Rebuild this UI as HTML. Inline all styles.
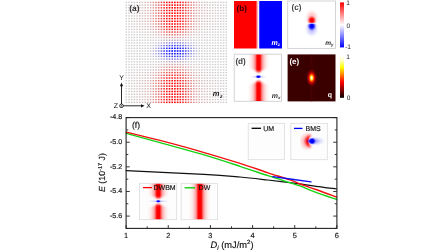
<!DOCTYPE html>
<html><head><meta charset="utf-8"><style>
html,body{margin:0;padding:0;background:#fff;}
body{width:448px;height:252px;overflow:hidden;}
svg{display:block;} text{text-rendering:geometricPrecision;}
</style></head><body>
<svg width="448" height="252" viewBox="0 0 448 252">
<rect width="448" height="252" fill="#fff"/>
<defs><radialGradient id="rcore" cx="0.5" cy="0.5" r="0.5"><stop offset="0" stop-color="#ff0000" stop-opacity="1"/><stop offset="0.35" stop-color="#ff0000" stop-opacity="1"/><stop offset="0.55" stop-color="#ff0000" stop-opacity="0.6"/><stop offset="0.75" stop-color="#ff0000" stop-opacity="0.25"/><stop offset="1" stop-color="#ff0000" stop-opacity="0"/></radialGradient><radialGradient id="bcore" cx="0.5" cy="0.5" r="0.5"><stop offset="0" stop-color="#0000ff" stop-opacity="1"/><stop offset="0.35" stop-color="#0000ff" stop-opacity="1"/><stop offset="0.55" stop-color="#0000ff" stop-opacity="0.6"/><stop offset="0.75" stop-color="#0000ff" stop-opacity="0.25"/><stop offset="1" stop-color="#0000ff" stop-opacity="0"/></radialGradient><radialGradient id="rcore2" cx="0.5" cy="0.5" r="0.5"><stop offset="0" stop-color="#ff0000" stop-opacity="1"/><stop offset="0.35" stop-color="#ff0000" stop-opacity="1"/><stop offset="0.6" stop-color="#ff0000" stop-opacity="0.5"/><stop offset="0.8" stop-color="#ff0000" stop-opacity="0.2"/><stop offset="1" stop-color="#ff0000" stop-opacity="0"/></radialGradient><radialGradient id="bcore2" cx="0.5" cy="0.5" r="0.5"><stop offset="0" stop-color="#0000ff" stop-opacity="1"/><stop offset="0.35" stop-color="#0000ff" stop-opacity="1"/><stop offset="0.6" stop-color="#0000ff" stop-opacity="0.5"/><stop offset="0.8" stop-color="#0000ff" stop-opacity="0.2"/><stop offset="1" stop-color="#0000ff" stop-opacity="0"/></radialGradient><radialGradient id="bcore3" cx="0.5" cy="0.5" r="0.5"><stop offset="0" stop-color="#0000ff" stop-opacity="1"/><stop offset="0.42" stop-color="#0000ff" stop-opacity="1"/><stop offset="0.72" stop-color="#0000ff" stop-opacity="0.45"/><stop offset="1" stop-color="#0000ff" stop-opacity="0"/></radialGradient><radialGradient id="rhalo" cx="0.5" cy="0.5" r="0.5"><stop offset="0" stop-color="#ff0000" stop-opacity="0.4"/><stop offset="0.5" stop-color="#ff0000" stop-opacity="0.17"/><stop offset="1" stop-color="#ff0000" stop-opacity="0"/></radialGradient><radialGradient id="rhalo3" cx="0.5" cy="0.5" r="0.5"><stop offset="0" stop-color="#ff0000" stop-opacity="0.45"/><stop offset="0.5" stop-color="#ff0000" stop-opacity="0.22"/><stop offset="1" stop-color="#ff0000" stop-opacity="0"/></radialGradient><radialGradient id="bhalo" cx="0.5" cy="0.5" r="0.5"><stop offset="0" stop-color="#0000ff" stop-opacity="0.4"/><stop offset="0.5" stop-color="#0000ff" stop-opacity="0.17"/><stop offset="1" stop-color="#0000ff" stop-opacity="0"/></radialGradient><radialGradient id="bhalo2" cx="0.5" cy="0.5" r="0.5"><stop offset="0" stop-color="#0000ff" stop-opacity="0.45"/><stop offset="0.4" stop-color="#0000ff" stop-opacity="0.2"/><stop offset="1" stop-color="#0000ff" stop-opacity="0"/></radialGradient><radialGradient id="bhalo4" cx="0.5" cy="0.5" r="0.5"><stop offset="0" stop-color="#0000ff" stop-opacity="0.4"/><stop offset="0.4" stop-color="#0000ff" stop-opacity="0.14"/><stop offset="1" stop-color="#0000ff" stop-opacity="0"/></radialGradient><radialGradient id="whitegap" cx="0.5" cy="0.5" r="0.5"><stop offset="0" stop-color="#ffffff" stop-opacity="1"/><stop offset="0.55" stop-color="#ffffff" stop-opacity="1"/><stop offset="0.8" stop-color="#ffffff" stop-opacity="0.55"/><stop offset="1" stop-color="#ffffff" stop-opacity="0"/></radialGradient><radialGradient id="gapmask" cx="0.5" cy="0.5" r="0.5"><stop offset="0" stop-color="#000000" stop-opacity="1"/><stop offset="0.5" stop-color="#000000" stop-opacity="0.95"/><stop offset="0.75" stop-color="#000000" stop-opacity="0.5"/><stop offset="1" stop-color="#000000" stop-opacity="0"/></radialGradient><linearGradient id="stripe" x1="0" x2="1" y1="0" y2="0"><stop offset="0" stop-color="#ff0000" stop-opacity="0"/><stop offset="0.1" stop-color="#ff0000" stop-opacity="0.04"/><stop offset="0.2" stop-color="#ff0000" stop-opacity="0.13"/><stop offset="0.3" stop-color="#ff0000" stop-opacity="0.32"/><stop offset="0.36" stop-color="#ff0000" stop-opacity="0.55"/><stop offset="0.4" stop-color="#ff0000" stop-opacity="0.8"/><stop offset="0.43" stop-color="#ff0000" stop-opacity="1"/><stop offset="0.57" stop-color="#ff0000" stop-opacity="1"/><stop offset="0.6" stop-color="#ff0000" stop-opacity="0.8"/><stop offset="0.64" stop-color="#ff0000" stop-opacity="0.55"/><stop offset="0.7" stop-color="#ff0000" stop-opacity="0.32"/><stop offset="0.8" stop-color="#ff0000" stop-opacity="0.13"/><stop offset="0.9" stop-color="#ff0000" stop-opacity="0.04"/><stop offset="1" stop-color="#ff0000" stop-opacity="0"/></linearGradient><radialGradient id="espot" cx="0.5" cy="0.5" r="0.5"><stop offset="0" stop-color="#ffffff" stop-opacity="1"/><stop offset="0.14" stop-color="#ffffa0" stop-opacity="1"/><stop offset="0.26" stop-color="#ffc000" stop-opacity="1"/><stop offset="0.4" stop-color="#ff2000" stop-opacity="1"/><stop offset="0.6" stop-color="#a00000" stop-opacity="1"/><stop offset="0.8" stop-color="#550000" stop-opacity="1"/><stop offset="1" stop-color="#3a0000" stop-opacity="1"/></radialGradient><linearGradient id="estripe" x1="0" x2="1" y1="0" y2="0"><stop offset="0" stop-color="#5a0000" stop-opacity="0"/><stop offset="0.5" stop-color="#5a0000" stop-opacity="0.35"/><stop offset="1" stop-color="#5a0000" stop-opacity="0"/></linearGradient><linearGradient id="tailb" x1="0" x2="1" y1="0" y2="0"><stop offset="0" stop-color="#0000ff" stop-opacity="0.55"/><stop offset="0.4" stop-color="#0000ff" stop-opacity="0.25"/><stop offset="1" stop-color="#0000ff" stop-opacity="0"/></linearGradient><radialGradient id="tailr" cx="0.5" cy="0.5" r="0.5" fx="0.2" fy="0.5"><stop offset="0" stop-color="#0000ff" stop-opacity="0.75"/><stop offset="0.35" stop-color="#0000ff" stop-opacity="0.4"/><stop offset="0.7" stop-color="#0000ff" stop-opacity="0.12"/><stop offset="1" stop-color="#0000ff" stop-opacity="0"/></radialGradient><linearGradient id="crescm" x1="0" x2="1" y1="0" y2="0"><stop offset="0" stop-color="#ffffff" stop-opacity="1"/><stop offset="0.5" stop-color="#ffffff" stop-opacity="1"/><stop offset="0.75" stop-color="#ffffff" stop-opacity="0.3"/><stop offset="1" stop-color="#ffffff" stop-opacity="0"/></linearGradient></defs><g><rect x="125.52" y="1.72" width="1.55" height="1.35" fill="#d1cbcb"/><rect x="128.22" y="1.72" width="1.55" height="1.36" fill="#d1caca"/><rect x="130.92" y="1.72" width="1.55" height="1.36" fill="#d1c8c8"/><rect x="133.62" y="1.72" width="1.55" height="1.36" fill="#d2c6c6"/><rect x="136.32" y="1.72" width="1.56" height="1.36" fill="#d2c4c4"/><rect x="139.02" y="1.72" width="1.56" height="1.36" fill="#d3c2c2"/><rect x="141.72" y="1.72" width="1.56" height="1.37" fill="#d3bfbf"/><rect x="144.42" y="1.71" width="1.56" height="1.37" fill="#d4baba"/><rect x="147.12" y="1.71" width="1.56" height="1.38" fill="#d6b3b3"/><rect x="149.82" y="1.71" width="1.57" height="1.39" fill="#d8a8a8"/><rect x="152.51" y="1.70" width="1.58" height="1.40" fill="#dc9898"/><rect x="155.21" y="1.69" width="1.59" height="1.43" fill="#e18181"/><rect x="157.90" y="1.67" width="1.60" height="1.45" fill="#e76666"/><rect x="160.59" y="1.66" width="1.62" height="1.48" fill="#ee4848"/><rect x="163.29" y="1.65" width="1.63" height="1.51" fill="#f42c2c"/><rect x="165.98" y="1.64" width="1.64" height="1.53" fill="#fa1515"/><rect x="168.68" y="1.63" width="1.65" height="1.54" fill="#fd0707"/><rect x="171.38" y="1.63" width="1.65" height="1.55" fill="#fe0000"/><rect x="174.08" y="1.63" width="1.65" height="1.55" fill="#fe0000"/><rect x="176.78" y="1.63" width="1.65" height="1.55" fill="#fe0404"/><rect x="179.48" y="1.63" width="1.64" height="1.53" fill="#fb0f0f"/><rect x="182.18" y="1.64" width="1.63" height="1.52" fill="#f62323"/><rect x="184.89" y="1.66" width="1.62" height="1.49" fill="#f03e3e"/><rect x="187.60" y="1.67" width="1.61" height="1.46" fill="#ea5c5c"/><rect x="190.30" y="1.68" width="1.59" height="1.43" fill="#e37878"/><rect x="193.01" y="1.69" width="1.58" height="1.41" fill="#de9191"/><rect x="195.71" y="1.70" width="1.57" height="1.39" fill="#daa3a3"/><rect x="198.42" y="1.71" width="1.57" height="1.38" fill="#d7b0b0"/><rect x="201.12" y="1.71" width="1.56" height="1.37" fill="#d5b8b8"/><rect x="203.82" y="1.72" width="1.56" height="1.37" fill="#d4bdbd"/><rect x="206.52" y="1.72" width="1.56" height="1.36" fill="#d3c1c1"/><rect x="209.22" y="1.72" width="1.56" height="1.36" fill="#d2c4c4"/><rect x="211.92" y="1.72" width="1.55" height="1.36" fill="#d2c6c6"/><rect x="214.62" y="1.72" width="1.55" height="1.36" fill="#d1c8c8"/><rect x="217.32" y="1.72" width="1.55" height="1.36" fill="#d1c9c9"/><rect x="220.02" y="1.72" width="1.55" height="1.35" fill="#d1cbcb"/><rect x="222.72" y="1.72" width="1.55" height="1.35" fill="#d0cccc"/><rect x="225.42" y="1.72" width="1.55" height="1.35" fill="#d0cdcd"/><rect x="125.52" y="4.42" width="1.55" height="1.35" fill="#d1cbcb"/><rect x="128.22" y="4.42" width="1.55" height="1.36" fill="#d1caca"/><rect x="130.92" y="4.42" width="1.55" height="1.36" fill="#d1c8c8"/><rect x="133.62" y="4.42" width="1.55" height="1.36" fill="#d2c6c6"/><rect x="136.32" y="4.42" width="1.56" height="1.36" fill="#d2c4c4"/><rect x="139.02" y="4.42" width="1.56" height="1.36" fill="#d3c2c2"/><rect x="141.72" y="4.42" width="1.56" height="1.37" fill="#d3bfbf"/><rect x="144.42" y="4.41" width="1.56" height="1.37" fill="#d4baba"/><rect x="147.12" y="4.41" width="1.56" height="1.38" fill="#d6b3b3"/><rect x="149.82" y="4.41" width="1.57" height="1.39" fill="#d8a8a8"/><rect x="152.51" y="4.40" width="1.58" height="1.40" fill="#dc9898"/><rect x="155.21" y="4.39" width="1.59" height="1.43" fill="#e18181"/><rect x="157.90" y="4.37" width="1.60" height="1.45" fill="#e76666"/><rect x="160.59" y="4.36" width="1.62" height="1.48" fill="#ee4848"/><rect x="163.29" y="4.35" width="1.63" height="1.51" fill="#f42c2c"/><rect x="165.98" y="4.34" width="1.64" height="1.53" fill="#fa1515"/><rect x="168.68" y="4.33" width="1.65" height="1.54" fill="#fd0707"/><rect x="171.38" y="4.33" width="1.65" height="1.55" fill="#fe0000"/><rect x="174.08" y="4.33" width="1.65" height="1.55" fill="#fe0000"/><rect x="176.78" y="4.33" width="1.65" height="1.55" fill="#fe0404"/><rect x="179.48" y="4.33" width="1.64" height="1.53" fill="#fb0f0f"/><rect x="182.18" y="4.34" width="1.63" height="1.52" fill="#f62323"/><rect x="184.89" y="4.36" width="1.62" height="1.49" fill="#f03e3e"/><rect x="187.60" y="4.37" width="1.61" height="1.46" fill="#ea5c5c"/><rect x="190.30" y="4.38" width="1.59" height="1.43" fill="#e37878"/><rect x="193.01" y="4.39" width="1.58" height="1.41" fill="#de9191"/><rect x="195.71" y="4.40" width="1.57" height="1.39" fill="#daa3a3"/><rect x="198.42" y="4.41" width="1.57" height="1.38" fill="#d7b0b0"/><rect x="201.12" y="4.41" width="1.56" height="1.37" fill="#d5b8b8"/><rect x="203.82" y="4.42" width="1.56" height="1.37" fill="#d4bdbd"/><rect x="206.52" y="4.42" width="1.56" height="1.36" fill="#d3c1c1"/><rect x="209.22" y="4.42" width="1.56" height="1.36" fill="#d2c4c4"/><rect x="211.92" y="4.42" width="1.55" height="1.36" fill="#d2c6c6"/><rect x="214.62" y="4.42" width="1.55" height="1.36" fill="#d1c8c8"/><rect x="217.32" y="4.42" width="1.55" height="1.36" fill="#d1c9c9"/><rect x="220.02" y="4.42" width="1.55" height="1.35" fill="#d1cbcb"/><rect x="222.72" y="4.42" width="1.55" height="1.35" fill="#d0cccc"/><rect x="225.42" y="4.42" width="1.55" height="1.35" fill="#d0cdcd"/><rect x="125.52" y="7.12" width="1.55" height="1.35" fill="#d1cbcb"/><rect x="128.22" y="7.12" width="1.55" height="1.36" fill="#d1caca"/><rect x="130.92" y="7.12" width="1.55" height="1.36" fill="#d1c8c8"/><rect x="133.62" y="7.12" width="1.55" height="1.36" fill="#d2c6c6"/><rect x="136.32" y="7.12" width="1.56" height="1.36" fill="#d2c4c4"/><rect x="139.02" y="7.12" width="1.56" height="1.36" fill="#d3c2c2"/><rect x="141.72" y="7.12" width="1.56" height="1.37" fill="#d3bfbf"/><rect x="144.42" y="7.11" width="1.56" height="1.37" fill="#d4baba"/><rect x="147.12" y="7.11" width="1.56" height="1.38" fill="#d6b3b3"/><rect x="149.82" y="7.11" width="1.57" height="1.39" fill="#d8a8a8"/><rect x="152.51" y="7.10" width="1.58" height="1.40" fill="#dc9898"/><rect x="155.21" y="7.09" width="1.59" height="1.43" fill="#e18181"/><rect x="157.90" y="7.07" width="1.60" height="1.45" fill="#e76666"/><rect x="160.59" y="7.06" width="1.62" height="1.48" fill="#ee4848"/><rect x="163.29" y="7.05" width="1.63" height="1.51" fill="#f42c2c"/><rect x="165.98" y="7.04" width="1.64" height="1.53" fill="#fa1515"/><rect x="168.68" y="7.03" width="1.65" height="1.54" fill="#fd0707"/><rect x="171.38" y="7.03" width="1.65" height="1.55" fill="#fe0000"/><rect x="174.08" y="7.03" width="1.65" height="1.55" fill="#fe0000"/><rect x="176.78" y="7.03" width="1.65" height="1.55" fill="#fe0404"/><rect x="179.48" y="7.03" width="1.64" height="1.53" fill="#fb0f0f"/><rect x="182.18" y="7.04" width="1.63" height="1.52" fill="#f62323"/><rect x="184.89" y="7.06" width="1.62" height="1.49" fill="#f03e3e"/><rect x="187.60" y="7.07" width="1.61" height="1.46" fill="#ea5c5c"/><rect x="190.30" y="7.08" width="1.59" height="1.43" fill="#e37878"/><rect x="193.01" y="7.09" width="1.58" height="1.41" fill="#de9191"/><rect x="195.71" y="7.10" width="1.57" height="1.39" fill="#daa3a3"/><rect x="198.42" y="7.11" width="1.57" height="1.38" fill="#d7b0b0"/><rect x="201.12" y="7.11" width="1.56" height="1.37" fill="#d5b8b8"/><rect x="203.82" y="7.12" width="1.56" height="1.37" fill="#d4bdbd"/><rect x="206.52" y="7.12" width="1.56" height="1.36" fill="#d3c1c1"/><rect x="209.22" y="7.12" width="1.56" height="1.36" fill="#d2c4c4"/><rect x="211.92" y="7.12" width="1.55" height="1.36" fill="#d2c6c6"/><rect x="214.62" y="7.12" width="1.55" height="1.36" fill="#d1c8c8"/><rect x="217.32" y="7.12" width="1.55" height="1.36" fill="#d1c9c9"/><rect x="220.02" y="7.12" width="1.55" height="1.35" fill="#d1cbcb"/><rect x="222.72" y="7.12" width="1.55" height="1.35" fill="#d0cccc"/><rect x="225.42" y="7.12" width="1.55" height="1.35" fill="#d0cdcd"/><rect x="125.52" y="9.82" width="1.55" height="1.35" fill="#d1cbcb"/><rect x="128.22" y="9.82" width="1.55" height="1.36" fill="#d1caca"/><rect x="130.92" y="9.82" width="1.55" height="1.36" fill="#d1c8c8"/><rect x="133.62" y="9.82" width="1.55" height="1.36" fill="#d2c6c6"/><rect x="136.32" y="9.82" width="1.56" height="1.36" fill="#d2c4c4"/><rect x="139.02" y="9.82" width="1.56" height="1.36" fill="#d3c2c2"/><rect x="141.72" y="9.82" width="1.56" height="1.37" fill="#d3bfbf"/><rect x="144.42" y="9.81" width="1.56" height="1.37" fill="#d4baba"/><rect x="147.12" y="9.81" width="1.56" height="1.38" fill="#d6b3b3"/><rect x="149.82" y="9.81" width="1.57" height="1.39" fill="#d8a8a8"/><rect x="152.51" y="9.80" width="1.58" height="1.40" fill="#dc9898"/><rect x="155.21" y="9.79" width="1.59" height="1.43" fill="#e18181"/><rect x="157.90" y="9.77" width="1.60" height="1.45" fill="#e76666"/><rect x="160.59" y="9.76" width="1.62" height="1.48" fill="#ee4848"/><rect x="163.29" y="9.75" width="1.63" height="1.51" fill="#f42c2c"/><rect x="165.98" y="9.74" width="1.64" height="1.53" fill="#fa1515"/><rect x="168.68" y="9.73" width="1.65" height="1.54" fill="#fd0707"/><rect x="171.38" y="9.73" width="1.65" height="1.55" fill="#fe0000"/><rect x="174.08" y="9.73" width="1.65" height="1.55" fill="#fe0000"/><rect x="176.78" y="9.73" width="1.65" height="1.55" fill="#fe0404"/><rect x="179.48" y="9.73" width="1.64" height="1.53" fill="#fb0f0f"/><rect x="182.18" y="9.74" width="1.63" height="1.52" fill="#f62323"/><rect x="184.89" y="9.76" width="1.62" height="1.49" fill="#f03e3e"/><rect x="187.60" y="9.77" width="1.61" height="1.46" fill="#ea5c5c"/><rect x="190.30" y="9.78" width="1.59" height="1.43" fill="#e37878"/><rect x="193.01" y="9.79" width="1.58" height="1.41" fill="#de9191"/><rect x="195.71" y="9.80" width="1.57" height="1.39" fill="#daa3a3"/><rect x="198.42" y="9.81" width="1.57" height="1.38" fill="#d7b0b0"/><rect x="201.12" y="9.81" width="1.56" height="1.37" fill="#d5b8b8"/><rect x="203.82" y="9.82" width="1.56" height="1.37" fill="#d4bdbd"/><rect x="206.52" y="9.82" width="1.56" height="1.36" fill="#d3c1c1"/><rect x="209.22" y="9.82" width="1.56" height="1.36" fill="#d2c4c4"/><rect x="211.92" y="9.82" width="1.55" height="1.36" fill="#d2c6c6"/><rect x="214.62" y="9.82" width="1.55" height="1.36" fill="#d1c8c8"/><rect x="217.32" y="9.82" width="1.55" height="1.36" fill="#d1c9c9"/><rect x="220.02" y="9.82" width="1.55" height="1.35" fill="#d1cbcb"/><rect x="222.72" y="9.82" width="1.55" height="1.35" fill="#d0cccc"/><rect x="225.42" y="9.82" width="1.55" height="1.35" fill="#d0cdcd"/><rect x="125.52" y="12.52" width="1.55" height="1.35" fill="#d1cbcb"/><rect x="128.22" y="12.52" width="1.55" height="1.36" fill="#d1caca"/><rect x="130.92" y="12.52" width="1.55" height="1.36" fill="#d1c8c8"/><rect x="133.62" y="12.52" width="1.55" height="1.36" fill="#d2c6c6"/><rect x="136.32" y="12.52" width="1.56" height="1.36" fill="#d2c4c4"/><rect x="139.02" y="12.52" width="1.56" height="1.36" fill="#d3c2c2"/><rect x="141.72" y="12.52" width="1.56" height="1.37" fill="#d3bfbf"/><rect x="144.42" y="12.51" width="1.56" height="1.37" fill="#d4baba"/><rect x="147.12" y="12.51" width="1.56" height="1.38" fill="#d6b3b3"/><rect x="149.82" y="12.51" width="1.57" height="1.39" fill="#d8a8a8"/><rect x="152.51" y="12.50" width="1.58" height="1.40" fill="#dc9898"/><rect x="155.21" y="12.49" width="1.59" height="1.43" fill="#e18181"/><rect x="157.90" y="12.47" width="1.60" height="1.45" fill="#e76666"/><rect x="160.59" y="12.46" width="1.62" height="1.48" fill="#ee4848"/><rect x="163.29" y="12.45" width="1.63" height="1.51" fill="#f42c2c"/><rect x="165.98" y="12.44" width="1.64" height="1.53" fill="#fa1515"/><rect x="168.68" y="12.43" width="1.65" height="1.54" fill="#fd0707"/><rect x="171.38" y="12.43" width="1.65" height="1.55" fill="#fe0000"/><rect x="174.08" y="12.43" width="1.65" height="1.55" fill="#fe0000"/><rect x="176.78" y="12.43" width="1.65" height="1.55" fill="#fe0404"/><rect x="179.48" y="12.43" width="1.64" height="1.53" fill="#fb0f0f"/><rect x="182.18" y="12.44" width="1.63" height="1.52" fill="#f62424"/><rect x="184.89" y="12.46" width="1.62" height="1.49" fill="#f03e3e"/><rect x="187.60" y="12.47" width="1.61" height="1.46" fill="#ea5c5c"/><rect x="190.30" y="12.48" width="1.59" height="1.43" fill="#e37979"/><rect x="193.01" y="12.49" width="1.58" height="1.41" fill="#de9191"/><rect x="195.71" y="12.50" width="1.57" height="1.39" fill="#daa3a3"/><rect x="198.42" y="12.51" width="1.57" height="1.38" fill="#d7b0b0"/><rect x="201.12" y="12.51" width="1.56" height="1.37" fill="#d5b8b8"/><rect x="203.82" y="12.52" width="1.56" height="1.37" fill="#d4bdbd"/><rect x="206.52" y="12.52" width="1.56" height="1.36" fill="#d3c1c1"/><rect x="209.22" y="12.52" width="1.56" height="1.36" fill="#d2c4c4"/><rect x="211.92" y="12.52" width="1.55" height="1.36" fill="#d2c6c6"/><rect x="214.62" y="12.52" width="1.55" height="1.36" fill="#d1c8c8"/><rect x="217.32" y="12.52" width="1.55" height="1.36" fill="#d1c9c9"/><rect x="220.02" y="12.52" width="1.55" height="1.35" fill="#d1cbcb"/><rect x="222.72" y="12.52" width="1.55" height="1.35" fill="#d0cccc"/><rect x="225.42" y="12.52" width="1.55" height="1.35" fill="#d0cdcd"/><rect x="125.52" y="15.22" width="1.55" height="1.35" fill="#d1cbcb"/><rect x="128.22" y="15.22" width="1.55" height="1.36" fill="#d1caca"/><rect x="130.92" y="15.22" width="1.55" height="1.36" fill="#d1c8c8"/><rect x="133.62" y="15.22" width="1.55" height="1.36" fill="#d2c7c7"/><rect x="136.32" y="15.22" width="1.56" height="1.36" fill="#d2c4c4"/><rect x="139.02" y="15.22" width="1.56" height="1.36" fill="#d3c2c2"/><rect x="141.72" y="15.22" width="1.56" height="1.37" fill="#d3bfbf"/><rect x="144.42" y="15.21" width="1.56" height="1.37" fill="#d4baba"/><rect x="147.12" y="15.21" width="1.56" height="1.38" fill="#d6b3b3"/><rect x="149.82" y="15.21" width="1.57" height="1.39" fill="#d8a8a8"/><rect x="152.51" y="15.20" width="1.58" height="1.40" fill="#dc9898"/><rect x="155.21" y="15.19" width="1.59" height="1.42" fill="#e18282"/><rect x="157.90" y="15.17" width="1.60" height="1.45" fill="#e76666"/><rect x="160.59" y="15.16" width="1.62" height="1.48" fill="#ee4848"/><rect x="163.29" y="15.15" width="1.63" height="1.51" fill="#f42c2c"/><rect x="165.98" y="15.14" width="1.64" height="1.53" fill="#fa1515"/><rect x="168.68" y="15.13" width="1.65" height="1.54" fill="#fd0707"/><rect x="171.38" y="15.13" width="1.65" height="1.55" fill="#fe0000"/><rect x="174.08" y="15.13" width="1.65" height="1.55" fill="#fe0000"/><rect x="176.78" y="15.13" width="1.65" height="1.55" fill="#fe0404"/><rect x="179.48" y="15.13" width="1.64" height="1.53" fill="#fb0f0f"/><rect x="182.18" y="15.14" width="1.63" height="1.52" fill="#f62424"/><rect x="184.89" y="15.16" width="1.62" height="1.49" fill="#f03e3e"/><rect x="187.60" y="15.17" width="1.61" height="1.46" fill="#ea5c5c"/><rect x="190.30" y="15.18" width="1.59" height="1.43" fill="#e37979"/><rect x="193.01" y="15.19" width="1.58" height="1.41" fill="#de9191"/><rect x="195.71" y="15.20" width="1.57" height="1.39" fill="#d9a3a3"/><rect x="198.42" y="15.21" width="1.57" height="1.38" fill="#d7b0b0"/><rect x="201.12" y="15.21" width="1.56" height="1.37" fill="#d5b8b8"/><rect x="203.82" y="15.22" width="1.56" height="1.37" fill="#d4bdbd"/><rect x="206.52" y="15.22" width="1.56" height="1.36" fill="#d3c1c1"/><rect x="209.22" y="15.22" width="1.56" height="1.36" fill="#d2c4c4"/><rect x="211.92" y="15.22" width="1.55" height="1.36" fill="#d2c6c6"/><rect x="214.62" y="15.22" width="1.55" height="1.36" fill="#d1c8c8"/><rect x="217.32" y="15.22" width="1.55" height="1.36" fill="#d1c9c9"/><rect x="220.02" y="15.22" width="1.55" height="1.35" fill="#d1cbcb"/><rect x="222.72" y="15.22" width="1.55" height="1.35" fill="#d0cccc"/><rect x="225.42" y="15.22" width="1.55" height="1.35" fill="#d0cdcd"/><rect x="125.52" y="17.92" width="1.55" height="1.35" fill="#d0cbcb"/><rect x="128.22" y="17.92" width="1.55" height="1.36" fill="#d1caca"/><rect x="130.92" y="17.92" width="1.55" height="1.36" fill="#d1c8c8"/><rect x="133.62" y="17.92" width="1.55" height="1.36" fill="#d1c7c7"/><rect x="136.32" y="17.92" width="1.56" height="1.36" fill="#d2c5c5"/><rect x="139.02" y="17.92" width="1.56" height="1.36" fill="#d3c2c2"/><rect x="141.72" y="17.92" width="1.56" height="1.37" fill="#d3bfbf"/><rect x="144.42" y="17.91" width="1.56" height="1.37" fill="#d4baba"/><rect x="147.12" y="17.91" width="1.56" height="1.38" fill="#d6b4b4"/><rect x="149.82" y="17.91" width="1.57" height="1.39" fill="#d8a9a9"/><rect x="152.51" y="17.90" width="1.58" height="1.40" fill="#dc9999"/><rect x="155.21" y="17.89" width="1.59" height="1.42" fill="#e18282"/><rect x="157.90" y="17.87" width="1.60" height="1.45" fill="#e76767"/><rect x="160.59" y="17.86" width="1.61" height="1.48" fill="#ee4949"/><rect x="163.29" y="17.85" width="1.63" height="1.51" fill="#f42c2c"/><rect x="165.98" y="17.84" width="1.64" height="1.53" fill="#fa1616"/><rect x="168.68" y="17.83" width="1.65" height="1.54" fill="#fd0707"/><rect x="171.38" y="17.83" width="1.65" height="1.55" fill="#fe0000"/><rect x="174.08" y="17.83" width="1.65" height="1.55" fill="#fe0000"/><rect x="176.78" y="17.83" width="1.65" height="1.55" fill="#fe0404"/><rect x="179.48" y="17.83" width="1.64" height="1.53" fill="#fb1010"/><rect x="182.18" y="17.84" width="1.63" height="1.51" fill="#f62424"/><rect x="184.89" y="17.86" width="1.62" height="1.49" fill="#f03f3f"/><rect x="187.60" y="17.87" width="1.61" height="1.46" fill="#e95d5d"/><rect x="190.30" y="17.88" width="1.59" height="1.43" fill="#e37a7a"/><rect x="193.01" y="17.90" width="1.58" height="1.41" fill="#dd9292"/><rect x="195.71" y="17.90" width="1.57" height="1.39" fill="#d9a4a4"/><rect x="198.42" y="17.91" width="1.56" height="1.38" fill="#d7b0b0"/><rect x="201.12" y="17.91" width="1.56" height="1.37" fill="#d5b8b8"/><rect x="203.82" y="17.92" width="1.56" height="1.37" fill="#d4bebe"/><rect x="206.52" y="17.92" width="1.56" height="1.36" fill="#d3c1c1"/><rect x="209.22" y="17.92" width="1.56" height="1.36" fill="#d2c4c4"/><rect x="211.92" y="17.92" width="1.55" height="1.36" fill="#d2c6c6"/><rect x="214.62" y="17.92" width="1.55" height="1.36" fill="#d1c8c8"/><rect x="217.32" y="17.92" width="1.55" height="1.36" fill="#d1c9c9"/><rect x="220.02" y="17.92" width="1.55" height="1.35" fill="#d1cbcb"/><rect x="222.72" y="17.92" width="1.55" height="1.35" fill="#d0cccc"/><rect x="225.42" y="17.92" width="1.55" height="1.35" fill="#d0cdcd"/><rect x="125.52" y="20.62" width="1.55" height="1.35" fill="#d0cbcb"/><rect x="128.22" y="20.62" width="1.55" height="1.36" fill="#d1caca"/><rect x="130.92" y="20.62" width="1.55" height="1.36" fill="#d1c9c9"/><rect x="133.62" y="20.62" width="1.55" height="1.36" fill="#d1c7c7"/><rect x="136.32" y="20.62" width="1.56" height="1.36" fill="#d2c5c5"/><rect x="139.02" y="20.62" width="1.56" height="1.36" fill="#d2c3c3"/><rect x="141.72" y="20.62" width="1.56" height="1.37" fill="#d3bfbf"/><rect x="144.42" y="20.62" width="1.56" height="1.37" fill="#d4bbbb"/><rect x="147.12" y="20.61" width="1.56" height="1.38" fill="#d6b5b5"/><rect x="149.82" y="20.61" width="1.57" height="1.39" fill="#d8aaaa"/><rect x="152.51" y="20.60" width="1.58" height="1.40" fill="#db9a9a"/><rect x="155.21" y="20.59" width="1.59" height="1.42" fill="#e08585"/><rect x="157.90" y="20.58" width="1.60" height="1.45" fill="#e76969"/><rect x="160.59" y="20.56" width="1.61" height="1.48" fill="#ed4b4b"/><rect x="163.29" y="20.55" width="1.63" height="1.51" fill="#f42e2e"/><rect x="165.98" y="20.54" width="1.64" height="1.53" fill="#f91616"/><rect x="168.68" y="20.53" width="1.65" height="1.54" fill="#fd0707"/><rect x="171.38" y="20.53" width="1.65" height="1.55" fill="#fe0101"/><rect x="174.08" y="20.53" width="1.65" height="1.55" fill="#fe0000"/><rect x="176.78" y="20.53" width="1.65" height="1.55" fill="#fd0404"/><rect x="179.48" y="20.53" width="1.64" height="1.53" fill="#fb1010"/><rect x="182.18" y="20.54" width="1.63" height="1.51" fill="#f62525"/><rect x="184.89" y="20.56" width="1.62" height="1.49" fill="#f04141"/><rect x="187.60" y="20.57" width="1.60" height="1.46" fill="#e95f5f"/><rect x="190.30" y="20.58" width="1.59" height="1.43" fill="#e27c7c"/><rect x="193.01" y="20.60" width="1.58" height="1.41" fill="#dd9494"/><rect x="195.71" y="20.60" width="1.57" height="1.39" fill="#d9a6a6"/><rect x="198.42" y="20.61" width="1.56" height="1.38" fill="#d6b2b2"/><rect x="201.12" y="20.61" width="1.56" height="1.37" fill="#d5b9b9"/><rect x="203.82" y="20.62" width="1.56" height="1.37" fill="#d3bebe"/><rect x="206.52" y="20.62" width="1.56" height="1.36" fill="#d3c2c2"/><rect x="209.22" y="20.62" width="1.56" height="1.36" fill="#d2c4c4"/><rect x="211.92" y="20.62" width="1.55" height="1.36" fill="#d2c6c6"/><rect x="214.62" y="20.62" width="1.55" height="1.36" fill="#d1c8c8"/><rect x="217.32" y="20.62" width="1.55" height="1.36" fill="#d1caca"/><rect x="220.02" y="20.62" width="1.55" height="1.35" fill="#d1cbcb"/><rect x="222.72" y="20.62" width="1.55" height="1.35" fill="#d0cccc"/><rect x="225.42" y="20.62" width="1.55" height="1.35" fill="#d0cdcd"/><rect x="125.52" y="23.32" width="1.55" height="1.35" fill="#d0cccc"/><rect x="128.22" y="23.32" width="1.55" height="1.35" fill="#d1cbcb"/><rect x="130.92" y="23.32" width="1.55" height="1.36" fill="#d1c9c9"/><rect x="133.62" y="23.32" width="1.55" height="1.36" fill="#d1c8c8"/><rect x="136.32" y="23.32" width="1.55" height="1.36" fill="#d2c6c6"/><rect x="139.02" y="23.32" width="1.56" height="1.36" fill="#d2c3c3"/><rect x="141.72" y="23.32" width="1.56" height="1.36" fill="#d3c1c1"/><rect x="144.42" y="23.32" width="1.56" height="1.37" fill="#d4bdbd"/><rect x="147.12" y="23.31" width="1.56" height="1.37" fill="#d5b6b6"/><rect x="149.82" y="23.31" width="1.57" height="1.38" fill="#d7adad"/><rect x="152.51" y="23.30" width="1.57" height="1.40" fill="#db9e9e"/><rect x="155.21" y="23.29" width="1.58" height="1.42" fill="#df8989"/><rect x="157.90" y="23.28" width="1.60" height="1.44" fill="#e66e6e"/><rect x="160.59" y="23.26" width="1.61" height="1.47" fill="#ed4f4f"/><rect x="163.29" y="23.25" width="1.63" height="1.50" fill="#f33232"/><rect x="165.98" y="23.24" width="1.64" height="1.53" fill="#f91919"/><rect x="168.68" y="23.23" width="1.65" height="1.54" fill="#fc0a0a"/><rect x="171.38" y="23.23" width="1.65" height="1.55" fill="#fe0303"/><rect x="174.08" y="23.23" width="1.65" height="1.55" fill="#fe0202"/><rect x="176.78" y="23.23" width="1.65" height="1.54" fill="#fd0606"/><rect x="179.48" y="23.23" width="1.64" height="1.53" fill="#fa1313"/><rect x="182.18" y="23.24" width="1.63" height="1.51" fill="#f52929"/><rect x="184.89" y="23.26" width="1.62" height="1.48" fill="#ef4545"/><rect x="187.60" y="23.27" width="1.60" height="1.45" fill="#e86464"/><rect x="190.31" y="23.29" width="1.59" height="1.43" fill="#e18080"/><rect x="193.01" y="23.30" width="1.58" height="1.40" fill="#dc9898"/><rect x="195.72" y="23.31" width="1.57" height="1.39" fill="#d8a9a9"/><rect x="198.42" y="23.31" width="1.56" height="1.38" fill="#d6b4b4"/><rect x="201.12" y="23.32" width="1.56" height="1.37" fill="#d4bbbb"/><rect x="203.82" y="23.32" width="1.56" height="1.37" fill="#d3bfbf"/><rect x="206.52" y="23.32" width="1.56" height="1.36" fill="#d2c3c3"/><rect x="209.22" y="23.32" width="1.56" height="1.36" fill="#d2c5c5"/><rect x="211.92" y="23.32" width="1.55" height="1.36" fill="#d1c7c7"/><rect x="214.62" y="23.32" width="1.55" height="1.36" fill="#d1c9c9"/><rect x="217.32" y="23.32" width="1.55" height="1.36" fill="#d1caca"/><rect x="220.02" y="23.32" width="1.55" height="1.35" fill="#d0cbcb"/><rect x="222.72" y="23.32" width="1.55" height="1.35" fill="#d0cccc"/><rect x="225.42" y="23.32" width="1.55" height="1.35" fill="#d0cdcd"/><rect x="125.52" y="26.02" width="1.55" height="1.35" fill="#d0cccc"/><rect x="128.22" y="26.02" width="1.55" height="1.35" fill="#d0cbcb"/><rect x="130.92" y="26.02" width="1.55" height="1.36" fill="#d1caca"/><rect x="133.62" y="26.02" width="1.55" height="1.36" fill="#d1c9c9"/><rect x="136.32" y="26.02" width="1.55" height="1.36" fill="#d1c7c7"/><rect x="139.02" y="26.02" width="1.56" height="1.36" fill="#d2c5c5"/><rect x="141.72" y="26.02" width="1.56" height="1.36" fill="#d2c2c2"/><rect x="144.42" y="26.02" width="1.56" height="1.37" fill="#d3bfbf"/><rect x="147.12" y="26.01" width="1.56" height="1.37" fill="#d4baba"/><rect x="149.82" y="26.01" width="1.56" height="1.38" fill="#d6b1b1"/><rect x="152.51" y="26.00" width="1.57" height="1.39" fill="#d9a4a4"/><rect x="155.21" y="25.99" width="1.58" height="1.41" fill="#de9191"/><rect x="157.90" y="25.98" width="1.59" height="1.44" fill="#e47777"/><rect x="160.60" y="25.97" width="1.61" height="1.46" fill="#ea5959"/><rect x="163.29" y="25.95" width="1.62" height="1.49" fill="#f13b3b"/><rect x="165.98" y="25.94" width="1.63" height="1.52" fill="#f72222"/><rect x="168.68" y="25.93" width="1.64" height="1.53" fill="#fa1212"/><rect x="171.38" y="25.93" width="1.64" height="1.54" fill="#fc0b0b"/><rect x="174.08" y="25.93" width="1.64" height="1.54" fill="#fc0a0a"/><rect x="176.78" y="25.93" width="1.64" height="1.54" fill="#fb0f0f"/><rect x="179.48" y="25.94" width="1.64" height="1.52" fill="#f81c1c"/><rect x="182.19" y="25.95" width="1.63" height="1.50" fill="#f33232"/><rect x="184.89" y="25.96" width="1.61" height="1.47" fill="#ed4f4f"/><rect x="187.60" y="25.98" width="1.60" height="1.44" fill="#e66d6d"/><rect x="190.31" y="25.99" width="1.58" height="1.42" fill="#e08989"/><rect x="193.01" y="26.00" width="1.57" height="1.40" fill="#db9e9e"/><rect x="195.72" y="26.01" width="1.57" height="1.38" fill="#d7aeae"/><rect x="198.42" y="26.01" width="1.56" height="1.37" fill="#d5b7b7"/><rect x="201.12" y="26.02" width="1.56" height="1.37" fill="#d4bdbd"/><rect x="203.82" y="26.02" width="1.56" height="1.36" fill="#d3c1c1"/><rect x="206.52" y="26.02" width="1.56" height="1.36" fill="#d2c4c4"/><rect x="209.22" y="26.02" width="1.55" height="1.36" fill="#d2c6c6"/><rect x="211.92" y="26.02" width="1.55" height="1.36" fill="#d1c8c8"/><rect x="214.62" y="26.02" width="1.55" height="1.36" fill="#d1caca"/><rect x="217.32" y="26.02" width="1.55" height="1.35" fill="#d0cbcb"/><rect x="220.02" y="26.02" width="1.55" height="1.35" fill="#d0cccc"/><rect x="222.72" y="26.02" width="1.55" height="1.35" fill="#d0cdcd"/><rect x="225.42" y="26.02" width="1.55" height="1.35" fill="#d0cece"/><rect x="125.52" y="28.72" width="1.55" height="1.35" fill="#d0cdcd"/><rect x="128.22" y="28.72" width="1.55" height="1.35" fill="#d0cdcd"/><rect x="130.92" y="28.72" width="1.55" height="1.35" fill="#d0cccc"/><rect x="133.62" y="28.72" width="1.55" height="1.36" fill="#d1caca"/><rect x="136.32" y="28.72" width="1.55" height="1.36" fill="#d1c9c9"/><rect x="139.02" y="28.72" width="1.55" height="1.36" fill="#d1c7c7"/><rect x="141.72" y="28.72" width="1.56" height="1.36" fill="#d2c5c5"/><rect x="144.42" y="28.72" width="1.56" height="1.36" fill="#d3c2c2"/><rect x="147.12" y="28.72" width="1.56" height="1.37" fill="#d3bebe"/><rect x="149.82" y="28.71" width="1.56" height="1.37" fill="#d5b7b7"/><rect x="152.52" y="28.71" width="1.57" height="1.38" fill="#d7adad"/><rect x="155.21" y="28.70" width="1.57" height="1.40" fill="#db9c9c"/><rect x="157.91" y="28.69" width="1.59" height="1.42" fill="#e08686"/><rect x="160.60" y="28.68" width="1.60" height="1.45" fill="#e66b6b"/><rect x="163.29" y="28.66" width="1.61" height="1.47" fill="#ed4f4f"/><rect x="165.99" y="28.65" width="1.62" height="1.50" fill="#f23737"/><rect x="168.68" y="28.64" width="1.63" height="1.51" fill="#f52828"/><rect x="171.38" y="28.64" width="1.63" height="1.52" fill="#f72121"/><rect x="174.08" y="28.64" width="1.63" height="1.52" fill="#f72020"/><rect x="176.78" y="28.64" width="1.63" height="1.51" fill="#f62525"/><rect x="179.49" y="28.65" width="1.63" height="1.50" fill="#f33131"/><rect x="182.19" y="28.66" width="1.62" height="1.48" fill="#ee4646"/><rect x="184.90" y="28.67" width="1.60" height="1.46" fill="#e86161"/><rect x="187.61" y="28.69" width="1.59" height="1.43" fill="#e27d7d"/><rect x="190.31" y="28.70" width="1.58" height="1.41" fill="#dd9696"/><rect x="193.02" y="28.71" width="1.57" height="1.39" fill="#d8a8a8"/><rect x="195.72" y="28.71" width="1.56" height="1.38" fill="#d6b4b4"/><rect x="198.42" y="28.72" width="1.56" height="1.37" fill="#d4bcbc"/><rect x="201.12" y="28.72" width="1.56" height="1.36" fill="#d3c1c1"/><rect x="203.82" y="28.72" width="1.56" height="1.36" fill="#d2c4c4"/><rect x="206.52" y="28.72" width="1.55" height="1.36" fill="#d2c6c6"/><rect x="209.22" y="28.72" width="1.55" height="1.36" fill="#d1c8c8"/><rect x="211.92" y="28.72" width="1.55" height="1.36" fill="#d1caca"/><rect x="214.62" y="28.72" width="1.55" height="1.35" fill="#d0cbcb"/><rect x="217.32" y="28.72" width="1.55" height="1.35" fill="#d0cccc"/><rect x="220.02" y="28.72" width="1.55" height="1.35" fill="#d0cdcd"/><rect x="222.72" y="28.72" width="1.55" height="1.35" fill="#d0cece"/><rect x="225.42" y="28.72" width="1.55" height="1.35" fill="#d0cece"/><rect x="125.52" y="31.42" width="1.55" height="1.35" fill="#d0cece"/><rect x="128.22" y="31.42" width="1.55" height="1.35" fill="#d0cece"/><rect x="130.92" y="31.42" width="1.55" height="1.35" fill="#d0cdcd"/><rect x="133.62" y="31.42" width="1.55" height="1.35" fill="#d0cccc"/><rect x="136.32" y="31.42" width="1.55" height="1.35" fill="#d1cbcb"/><rect x="139.02" y="31.42" width="1.55" height="1.36" fill="#d1caca"/><rect x="141.72" y="31.42" width="1.55" height="1.36" fill="#d1c8c8"/><rect x="144.42" y="31.42" width="1.55" height="1.36" fill="#d2c6c6"/><rect x="147.12" y="31.42" width="1.56" height="1.36" fill="#d2c3c3"/><rect x="149.82" y="31.42" width="1.56" height="1.37" fill="#d3bfbf"/><rect x="152.52" y="31.41" width="1.56" height="1.37" fill="#d5b7b7"/><rect x="155.22" y="31.41" width="1.57" height="1.39" fill="#d8abab"/><rect x="157.91" y="31.40" width="1.58" height="1.40" fill="#dc9a9a"/><rect x="160.61" y="31.39" width="1.59" height="1.42" fill="#e18484"/><rect x="163.30" y="31.38" width="1.60" height="1.44" fill="#e66d6d"/><rect x="166.00" y="31.37" width="1.61" height="1.46" fill="#ea5a5a"/><rect x="168.69" y="31.36" width="1.61" height="1.48" fill="#ed4c4c"/><rect x="171.39" y="31.36" width="1.62" height="1.48" fill="#ee4646"/><rect x="174.09" y="31.36" width="1.62" height="1.48" fill="#ef4646"/><rect x="176.79" y="31.36" width="1.61" height="1.48" fill="#ee4949"/><rect x="179.50" y="31.37" width="1.61" height="1.47" fill="#eb5454"/><rect x="182.20" y="31.37" width="1.60" height="1.45" fill="#e76666"/><rect x="184.91" y="31.39" width="1.59" height="1.43" fill="#e27c7c"/><rect x="187.61" y="31.40" width="1.58" height="1.41" fill="#dd9393"/><rect x="190.31" y="31.40" width="1.57" height="1.39" fill="#d9a6a6"/><rect x="193.02" y="31.41" width="1.56" height="1.38" fill="#d6b4b4"/><rect x="195.72" y="31.42" width="1.56" height="1.37" fill="#d4bcbc"/><rect x="198.42" y="31.42" width="1.56" height="1.36" fill="#d3c2c2"/><rect x="201.12" y="31.42" width="1.56" height="1.36" fill="#d2c5c5"/><rect x="203.82" y="31.42" width="1.55" height="1.36" fill="#d1c7c7"/><rect x="206.52" y="31.42" width="1.55" height="1.36" fill="#d1c9c9"/><rect x="209.22" y="31.42" width="1.55" height="1.35" fill="#d1caca"/><rect x="211.92" y="31.42" width="1.55" height="1.35" fill="#d0cccc"/><rect x="214.62" y="31.42" width="1.55" height="1.35" fill="#d0cdcd"/><rect x="217.32" y="31.42" width="1.55" height="1.35" fill="#d0cdcd"/><rect x="220.02" y="31.42" width="1.55" height="1.35" fill="#d0cece"/><rect x="222.72" y="31.42" width="1.55" height="1.35" fill="#d0cece"/><rect x="225.42" y="31.42" width="1.55" height="1.35" fill="#d0cfcf"/><rect x="125.52" y="34.12" width="1.55" height="1.35" fill="#d0cfcf"/><rect x="128.22" y="34.12" width="1.55" height="1.35" fill="#d0cece"/><rect x="130.92" y="34.12" width="1.55" height="1.35" fill="#d0cece"/><rect x="133.62" y="34.12" width="1.55" height="1.35" fill="#d0cdcd"/><rect x="136.32" y="34.12" width="1.55" height="1.35" fill="#d0cdcd"/><rect x="139.02" y="34.12" width="1.55" height="1.35" fill="#d0cccc"/><rect x="141.72" y="34.12" width="1.55" height="1.35" fill="#d1cbcb"/><rect x="144.42" y="34.12" width="1.55" height="1.36" fill="#d1caca"/><rect x="147.12" y="34.12" width="1.55" height="1.36" fill="#d1c8c8"/><rect x="149.82" y="34.12" width="1.56" height="1.36" fill="#d2c5c5"/><rect x="152.52" y="34.12" width="1.56" height="1.36" fill="#d3c1c1"/><rect x="155.22" y="34.11" width="1.56" height="1.37" fill="#d5b9b9"/><rect x="157.92" y="34.11" width="1.57" height="1.38" fill="#d7aeae"/><rect x="160.61" y="34.10" width="1.57" height="1.40" fill="#da9f9f"/><rect x="163.31" y="34.09" width="1.58" height="1.41" fill="#de8f90"/><rect x="166.01" y="34.09" width="1.59" height="1.43" fill="#e18182"/><rect x="168.70" y="34.08" width="1.59" height="1.43" fill="#e37778"/><rect x="171.40" y="34.08" width="1.59" height="1.44" fill="#e37374"/><rect x="174.10" y="34.08" width="1.59" height="1.44" fill="#e37374"/><rect x="176.80" y="34.08" width="1.59" height="1.44" fill="#e37576"/><rect x="179.51" y="34.09" width="1.59" height="1.43" fill="#e17d7e"/><rect x="182.21" y="34.09" width="1.58" height="1.42" fill="#df8a8b"/><rect x="184.91" y="34.10" width="1.58" height="1.40" fill="#db9a9a"/><rect x="187.62" y="34.11" width="1.57" height="1.39" fill="#d8a9a9"/><rect x="190.32" y="34.11" width="1.56" height="1.37" fill="#d5b6b6"/><rect x="193.02" y="34.12" width="1.56" height="1.37" fill="#d3bebe"/><rect x="195.72" y="34.12" width="1.56" height="1.36" fill="#d2c4c4"/><rect x="198.42" y="34.12" width="1.55" height="1.36" fill="#d1c7c7"/><rect x="201.12" y="34.12" width="1.55" height="1.36" fill="#d1c9c9"/><rect x="203.82" y="34.12" width="1.55" height="1.35" fill="#d1caca"/><rect x="206.52" y="34.12" width="1.55" height="1.35" fill="#d0cccc"/><rect x="209.22" y="34.12" width="1.55" height="1.35" fill="#d0cccc"/><rect x="211.92" y="34.12" width="1.55" height="1.35" fill="#d0cdcd"/><rect x="214.62" y="34.12" width="1.55" height="1.35" fill="#d0cece"/><rect x="217.32" y="34.12" width="1.55" height="1.35" fill="#d0cece"/><rect x="220.02" y="34.12" width="1.55" height="1.35" fill="#d0cfcf"/><rect x="222.72" y="34.12" width="1.55" height="1.35" fill="#d0cfcf"/><rect x="225.42" y="34.12" width="1.55" height="1.35" fill="#d0cfcf"/><rect x="125.52" y="36.82" width="1.55" height="1.35" fill="#d0cfcf"/><rect x="128.22" y="36.82" width="1.55" height="1.35" fill="#d0cfcf"/><rect x="130.92" y="36.82" width="1.55" height="1.35" fill="#d0cfcf"/><rect x="133.62" y="36.82" width="1.55" height="1.35" fill="#d0cece"/><rect x="136.32" y="36.82" width="1.55" height="1.35" fill="#d0cece"/><rect x="139.02" y="36.82" width="1.55" height="1.35" fill="#d0cece"/><rect x="141.72" y="36.82" width="1.55" height="1.35" fill="#d0cdcd"/><rect x="144.42" y="36.82" width="1.55" height="1.35" fill="#d0cccc"/><rect x="147.12" y="36.82" width="1.55" height="1.35" fill="#d0cbcb"/><rect x="149.82" y="36.82" width="1.55" height="1.36" fill="#d1caca"/><rect x="152.52" y="36.82" width="1.55" height="1.36" fill="#d1c7c8"/><rect x="155.22" y="36.82" width="1.56" height="1.36" fill="#d2c3c4"/><rect x="157.92" y="36.82" width="1.56" height="1.37" fill="#d2bdbe"/><rect x="160.62" y="36.81" width="1.56" height="1.37" fill="#d3b4b6"/><rect x="163.32" y="36.81" width="1.57" height="1.38" fill="#d4aaae"/><rect x="166.01" y="36.80" width="1.57" height="1.39" fill="#d5a1a6"/><rect x="168.71" y="36.80" width="1.57" height="1.40" fill="#d59ba2"/><rect x="171.41" y="36.80" width="1.57" height="1.40" fill="#d4989f"/><rect x="174.11" y="36.80" width="1.57" height="1.40" fill="#d4979f"/><rect x="176.81" y="36.80" width="1.57" height="1.40" fill="#d499a1"/><rect x="179.51" y="36.80" width="1.57" height="1.39" fill="#d49ea5"/><rect x="182.22" y="36.81" width="1.57" height="1.39" fill="#d3a6ac"/><rect x="184.92" y="36.81" width="1.56" height="1.38" fill="#d3b0b4"/><rect x="187.62" y="36.82" width="1.56" height="1.37" fill="#d2b9bc"/><rect x="190.32" y="36.82" width="1.56" height="1.36" fill="#d1c1c2"/><rect x="193.02" y="36.82" width="1.55" height="1.36" fill="#d1c6c7"/><rect x="195.72" y="36.82" width="1.55" height="1.36" fill="#d1c9ca"/><rect x="198.42" y="36.82" width="1.55" height="1.35" fill="#d0cbcb"/><rect x="201.12" y="36.82" width="1.55" height="1.35" fill="#d0cccc"/><rect x="203.82" y="36.82" width="1.55" height="1.35" fill="#d0cdcd"/><rect x="206.52" y="36.82" width="1.55" height="1.35" fill="#d0cdcd"/><rect x="209.22" y="36.82" width="1.55" height="1.35" fill="#d0cece"/><rect x="211.92" y="36.82" width="1.55" height="1.35" fill="#d0cece"/><rect x="214.62" y="36.82" width="1.55" height="1.35" fill="#d0cfcf"/><rect x="217.32" y="36.82" width="1.55" height="1.35" fill="#d0cfcf"/><rect x="220.02" y="36.82" width="1.55" height="1.35" fill="#d0cfcf"/><rect x="222.72" y="36.82" width="1.55" height="1.35" fill="#d0cfcf"/><rect x="225.42" y="36.82" width="1.55" height="1.35" fill="#d0cfcf"/><rect x="125.52" y="39.52" width="1.55" height="1.35" fill="#d0cfcf"/><rect x="128.22" y="39.52" width="1.55" height="1.35" fill="#d0cfcf"/><rect x="130.92" y="39.52" width="1.55" height="1.35" fill="#d0cfcf"/><rect x="133.62" y="39.52" width="1.55" height="1.35" fill="#d0cfcf"/><rect x="136.32" y="39.52" width="1.55" height="1.35" fill="#d0cfcf"/><rect x="139.02" y="39.52" width="1.55" height="1.35" fill="#d0cfcf"/><rect x="141.72" y="39.52" width="1.55" height="1.35" fill="#d0cece"/><rect x="144.42" y="39.52" width="1.55" height="1.35" fill="#d0cece"/><rect x="147.12" y="39.52" width="1.55" height="1.35" fill="#d0cece"/><rect x="149.82" y="39.52" width="1.55" height="1.35" fill="#cfcdcd"/><rect x="152.52" y="39.52" width="1.55" height="1.35" fill="#cfcbcd"/><rect x="155.22" y="39.52" width="1.55" height="1.35" fill="#cdc7cb"/><rect x="157.92" y="39.52" width="1.55" height="1.36" fill="#cbc2c9"/><rect x="160.62" y="39.52" width="1.56" height="1.36" fill="#c8bbc7"/><rect x="163.32" y="39.52" width="1.56" height="1.36" fill="#c3b2c5"/><rect x="166.02" y="39.52" width="1.56" height="1.37" fill="#bfaac3"/><rect x="168.72" y="39.51" width="1.56" height="1.37" fill="#baa3c2"/><rect x="171.42" y="39.51" width="1.56" height="1.38" fill="#b79fc3"/><rect x="174.12" y="39.51" width="1.56" height="1.38" fill="#b59ec3"/><rect x="176.82" y="39.51" width="1.56" height="1.38" fill="#b69fc3"/><rect x="179.52" y="39.51" width="1.56" height="1.37" fill="#b9a4c4"/><rect x="182.22" y="39.51" width="1.56" height="1.37" fill="#beabc5"/><rect x="184.92" y="39.52" width="1.56" height="1.37" fill="#c2b4c7"/><rect x="187.62" y="39.52" width="1.56" height="1.36" fill="#c7bdca"/><rect x="190.32" y="39.52" width="1.55" height="1.36" fill="#cac3cb"/><rect x="193.02" y="39.52" width="1.55" height="1.35" fill="#cdc8cd"/><rect x="195.72" y="39.52" width="1.55" height="1.35" fill="#cecbcd"/><rect x="198.42" y="39.52" width="1.55" height="1.35" fill="#cfcdce"/><rect x="201.12" y="39.52" width="1.55" height="1.35" fill="#d0cece"/><rect x="203.82" y="39.52" width="1.55" height="1.35" fill="#d0cece"/><rect x="206.52" y="39.52" width="1.55" height="1.35" fill="#d0cfcf"/><rect x="209.22" y="39.52" width="1.55" height="1.35" fill="#d0cfcf"/><rect x="211.92" y="39.52" width="1.55" height="1.35" fill="#d0cfcf"/><rect x="214.62" y="39.52" width="1.55" height="1.35" fill="#d0cfcf"/><rect x="217.32" y="39.52" width="1.55" height="1.35" fill="#d0cfcf"/><rect x="220.02" y="39.52" width="1.55" height="1.35" fill="#d0cfcf"/><rect x="222.72" y="39.52" width="1.55" height="1.35" fill="#d0cfcf"/><rect x="225.42" y="39.52" width="1.55" height="1.35" fill="#d0cfcf"/><rect x="125.52" y="42.22" width="1.55" height="1.35" fill="#d0cfcf"/><rect x="128.22" y="42.22" width="1.55" height="1.35" fill="#d0cfcf"/><rect x="130.92" y="42.22" width="1.55" height="1.35" fill="#d0cfcf"/><rect x="133.62" y="42.22" width="1.55" height="1.35" fill="#d0cfcf"/><rect x="136.32" y="42.22" width="1.55" height="1.35" fill="#d0cfcf"/><rect x="139.02" y="42.22" width="1.55" height="1.35" fill="#d0cfcf"/><rect x="141.72" y="42.22" width="1.55" height="1.35" fill="#cfcfcf"/><rect x="144.42" y="42.22" width="1.55" height="1.35" fill="#cfcfcf"/><rect x="147.12" y="42.22" width="1.55" height="1.35" fill="#cfcecf"/><rect x="149.82" y="42.22" width="1.55" height="1.35" fill="#cdcccf"/><rect x="152.52" y="42.22" width="1.55" height="1.36" fill="#cac9d0"/><rect x="155.22" y="42.22" width="1.56" height="1.36" fill="#c4c2d1"/><rect x="157.92" y="42.22" width="1.56" height="1.37" fill="#bbb9d2"/><rect x="160.62" y="42.21" width="1.57" height="1.38" fill="#b0acd4"/><rect x="163.31" y="42.20" width="1.57" height="1.39" fill="#a29dd6"/><rect x="166.01" y="42.20" width="1.58" height="1.41" fill="#948fd9"/><rect x="168.71" y="42.19" width="1.58" height="1.42" fill="#8882db"/><rect x="171.41" y="42.19" width="1.59" height="1.43" fill="#807add"/><rect x="174.10" y="42.18" width="1.59" height="1.43" fill="#7d77de"/><rect x="176.81" y="42.19" width="1.59" height="1.43" fill="#7f7add"/><rect x="179.51" y="42.19" width="1.59" height="1.42" fill="#8782dc"/><rect x="182.21" y="42.20" width="1.58" height="1.41" fill="#938eda"/><rect x="184.91" y="42.20" width="1.57" height="1.40" fill="#a19dd7"/><rect x="187.62" y="42.21" width="1.57" height="1.38" fill="#afacd5"/><rect x="190.32" y="42.21" width="1.56" height="1.37" fill="#bab8d3"/><rect x="193.02" y="42.22" width="1.56" height="1.36" fill="#c4c2d1"/><rect x="195.72" y="42.22" width="1.55" height="1.36" fill="#c9c8d0"/><rect x="198.42" y="42.22" width="1.55" height="1.35" fill="#cdccd0"/><rect x="201.12" y="42.22" width="1.55" height="1.35" fill="#cfcecf"/><rect x="203.82" y="42.22" width="1.55" height="1.35" fill="#cfcfcf"/><rect x="206.52" y="42.22" width="1.55" height="1.35" fill="#cfcfcf"/><rect x="209.22" y="42.22" width="1.55" height="1.35" fill="#d0cfcf"/><rect x="211.92" y="42.22" width="1.55" height="1.35" fill="#d0cfcf"/><rect x="214.62" y="42.22" width="1.55" height="1.35" fill="#d0cfcf"/><rect x="217.32" y="42.22" width="1.55" height="1.35" fill="#d0cfcf"/><rect x="220.02" y="42.22" width="1.55" height="1.35" fill="#d0cfcf"/><rect x="222.72" y="42.22" width="1.55" height="1.35" fill="#d0cfcf"/><rect x="225.42" y="42.22" width="1.55" height="1.35" fill="#d0cfcf"/><rect x="125.52" y="44.92" width="1.55" height="1.35" fill="#d0cfcf"/><rect x="128.22" y="44.92" width="1.55" height="1.35" fill="#d0cfcf"/><rect x="130.92" y="44.92" width="1.55" height="1.35" fill="#d0cfcf"/><rect x="133.62" y="44.92" width="1.55" height="1.35" fill="#d0cfcf"/><rect x="136.32" y="44.92" width="1.55" height="1.35" fill="#cfcfcf"/><rect x="139.02" y="44.92" width="1.55" height="1.35" fill="#cfcfcf"/><rect x="141.72" y="44.92" width="1.55" height="1.35" fill="#cfcfcf"/><rect x="144.42" y="44.92" width="1.55" height="1.35" fill="#cfcfd0"/><rect x="147.12" y="44.92" width="1.55" height="1.35" fill="#cdcdd0"/><rect x="149.82" y="44.92" width="1.55" height="1.36" fill="#c9c9d1"/><rect x="152.52" y="44.92" width="1.56" height="1.36" fill="#c1c1d2"/><rect x="155.22" y="44.91" width="1.56" height="1.38" fill="#b5b5d5"/><rect x="157.91" y="44.90" width="1.57" height="1.39" fill="#a3a2d9"/><rect x="160.61" y="44.89" width="1.58" height="1.42" fill="#8c8bde"/><rect x="163.30" y="44.88" width="1.59" height="1.44" fill="#7372e4"/><rect x="166.00" y="44.87" width="1.61" height="1.46" fill="#5c5be9"/><rect x="168.69" y="44.86" width="1.61" height="1.48" fill="#4948ee"/><rect x="171.39" y="44.85" width="1.62" height="1.49" fill="#3c3cf0"/><rect x="174.09" y="44.85" width="1.62" height="1.50" fill="#3838f1"/><rect x="176.79" y="44.85" width="1.62" height="1.49" fill="#3c3bf0"/><rect x="179.49" y="44.86" width="1.62" height="1.48" fill="#4747ee"/><rect x="182.20" y="44.87" width="1.61" height="1.46" fill="#5a59ea"/><rect x="184.90" y="44.88" width="1.60" height="1.44" fill="#7171e4"/><rect x="187.61" y="44.89" width="1.58" height="1.42" fill="#8a8adf"/><rect x="190.31" y="44.90" width="1.57" height="1.39" fill="#a1a1da"/><rect x="193.02" y="44.91" width="1.56" height="1.38" fill="#b4b3d6"/><rect x="195.72" y="44.92" width="1.56" height="1.36" fill="#c1c1d3"/><rect x="198.42" y="44.92" width="1.55" height="1.36" fill="#c9c8d1"/><rect x="201.12" y="44.92" width="1.55" height="1.35" fill="#cdcdd0"/><rect x="203.82" y="44.92" width="1.55" height="1.35" fill="#cfced0"/><rect x="206.52" y="44.92" width="1.55" height="1.35" fill="#cfcfd0"/><rect x="209.22" y="44.92" width="1.55" height="1.35" fill="#cfcfcf"/><rect x="211.92" y="44.92" width="1.55" height="1.35" fill="#cfcfcf"/><rect x="214.62" y="44.92" width="1.55" height="1.35" fill="#d0cfcf"/><rect x="217.32" y="44.92" width="1.55" height="1.35" fill="#d0cfcf"/><rect x="220.02" y="44.92" width="1.55" height="1.35" fill="#d0cfcf"/><rect x="222.72" y="44.92" width="1.55" height="1.35" fill="#d0cfcf"/><rect x="225.42" y="44.92" width="1.55" height="1.35" fill="#d0cfcf"/><rect x="125.52" y="47.62" width="1.55" height="1.35" fill="#d0cfcf"/><rect x="128.22" y="47.62" width="1.55" height="1.35" fill="#d0cfcf"/><rect x="130.92" y="47.62" width="1.55" height="1.35" fill="#cfcfcf"/><rect x="133.62" y="47.62" width="1.55" height="1.35" fill="#cfcfcf"/><rect x="136.32" y="47.62" width="1.55" height="1.35" fill="#cfcfd0"/><rect x="139.02" y="47.62" width="1.55" height="1.35" fill="#cfcfd0"/><rect x="141.72" y="47.62" width="1.55" height="1.35" fill="#cfcfd0"/><rect x="144.42" y="47.62" width="1.55" height="1.35" fill="#ceced0"/><rect x="147.12" y="47.62" width="1.55" height="1.35" fill="#cbcbd1"/><rect x="149.82" y="47.62" width="1.56" height="1.36" fill="#c4c4d2"/><rect x="152.52" y="47.61" width="1.56" height="1.37" fill="#b8b8d5"/><rect x="155.21" y="47.60" width="1.57" height="1.39" fill="#a5a5d9"/><rect x="157.91" y="47.59" width="1.58" height="1.42" fill="#8b8bdf"/><rect x="160.60" y="47.58" width="1.60" height="1.45" fill="#6b6be6"/><rect x="163.29" y="47.56" width="1.61" height="1.48" fill="#4b4bed"/><rect x="165.99" y="47.55" width="1.63" height="1.50" fill="#2e2ef4"/><rect x="168.68" y="47.54" width="1.64" height="1.52" fill="#1a1af9"/><rect x="171.38" y="47.53" width="1.64" height="1.54" fill="#0e0efb"/><rect x="174.08" y="47.53" width="1.64" height="1.54" fill="#0a0afc"/><rect x="176.78" y="47.53" width="1.64" height="1.54" fill="#0d0dfb"/><rect x="179.48" y="47.54" width="1.64" height="1.53" fill="#1919f9"/><rect x="182.19" y="47.55" width="1.63" height="1.51" fill="#2d2df4"/><rect x="184.89" y="47.56" width="1.61" height="1.48" fill="#4848ee"/><rect x="187.60" y="47.58" width="1.60" height="1.45" fill="#6969e7"/><rect x="190.31" y="47.59" width="1.58" height="1.42" fill="#8888e0"/><rect x="193.01" y="47.60" width="1.57" height="1.39" fill="#a3a3d9"/><rect x="195.72" y="47.61" width="1.56" height="1.37" fill="#b7b7d5"/><rect x="198.42" y="47.62" width="1.56" height="1.36" fill="#c4c4d2"/><rect x="201.12" y="47.62" width="1.55" height="1.35" fill="#cbcbd1"/><rect x="203.82" y="47.62" width="1.55" height="1.35" fill="#ceced0"/><rect x="206.52" y="47.62" width="1.55" height="1.35" fill="#cfcfd0"/><rect x="209.22" y="47.62" width="1.55" height="1.35" fill="#cfcfd0"/><rect x="211.92" y="47.62" width="1.55" height="1.35" fill="#cfcfd0"/><rect x="214.62" y="47.62" width="1.55" height="1.35" fill="#cfcfcf"/><rect x="217.32" y="47.62" width="1.55" height="1.35" fill="#cfcfcf"/><rect x="220.02" y="47.62" width="1.55" height="1.35" fill="#d0cfcf"/><rect x="222.72" y="47.62" width="1.55" height="1.35" fill="#d0cfcf"/><rect x="225.42" y="47.62" width="1.55" height="1.35" fill="#d0cfcf"/><rect x="125.52" y="50.32" width="1.55" height="1.35" fill="#cfcfd0"/><rect x="128.22" y="50.32" width="1.55" height="1.35" fill="#cfcfd0"/><rect x="130.92" y="50.32" width="1.55" height="1.35" fill="#cfcfd0"/><rect x="133.62" y="50.32" width="1.55" height="1.35" fill="#cfcfd0"/><rect x="136.32" y="50.32" width="1.55" height="1.35" fill="#cfcfd0"/><rect x="139.02" y="50.32" width="1.55" height="1.35" fill="#cfcfd0"/><rect x="141.72" y="50.32" width="1.55" height="1.35" fill="#cfcfd0"/><rect x="144.42" y="50.32" width="1.55" height="1.35" fill="#ceced0"/><rect x="147.12" y="50.32" width="1.55" height="1.36" fill="#cacad1"/><rect x="149.82" y="50.32" width="1.56" height="1.36" fill="#c2c2d2"/><rect x="152.52" y="50.31" width="1.56" height="1.38" fill="#b4b4d6"/><rect x="155.21" y="50.30" width="1.57" height="1.40" fill="#9e9edb"/><rect x="157.91" y="50.29" width="1.59" height="1.43" fill="#8181e1"/><rect x="160.60" y="50.27" width="1.60" height="1.46" fill="#5e5ee9"/><rect x="163.29" y="50.25" width="1.62" height="1.49" fill="#3b3bf1"/><rect x="165.98" y="50.24" width="1.64" height="1.52" fill="#1f1ff7"/><rect x="168.68" y="50.23" width="1.64" height="1.54" fill="#0b0bfc"/><rect x="171.38" y="50.23" width="1.65" height="1.55" fill="#0202fe"/><rect x="174.08" y="50.23" width="1.65" height="1.55" fill="#0000fe"/><rect x="176.78" y="50.23" width="1.65" height="1.55" fill="#0101fe"/><rect x="179.48" y="50.23" width="1.64" height="1.54" fill="#0a0afc"/><rect x="182.18" y="50.24" width="1.64" height="1.52" fill="#1d1df8"/><rect x="184.89" y="50.25" width="1.62" height="1.49" fill="#3939f1"/><rect x="187.60" y="50.27" width="1.61" height="1.46" fill="#5b5bea"/><rect x="190.31" y="50.29" width="1.59" height="1.43" fill="#7e7ee2"/><rect x="193.01" y="50.30" width="1.57" height="1.40" fill="#9c9cdb"/><rect x="195.72" y="50.31" width="1.56" height="1.38" fill="#b3b3d6"/><rect x="198.42" y="50.32" width="1.56" height="1.36" fill="#c2c2d3"/><rect x="201.12" y="50.32" width="1.55" height="1.36" fill="#cacad1"/><rect x="203.82" y="50.32" width="1.55" height="1.35" fill="#cdcdd0"/><rect x="206.52" y="50.32" width="1.55" height="1.35" fill="#cfcfd0"/><rect x="209.22" y="50.32" width="1.55" height="1.35" fill="#cfcfd0"/><rect x="211.92" y="50.32" width="1.55" height="1.35" fill="#cfcfd0"/><rect x="214.62" y="50.32" width="1.55" height="1.35" fill="#cfcfd0"/><rect x="217.32" y="50.32" width="1.55" height="1.35" fill="#cfcfd0"/><rect x="220.02" y="50.32" width="1.55" height="1.35" fill="#cfcfd0"/><rect x="222.72" y="50.32" width="1.55" height="1.35" fill="#cfcfd0"/><rect x="225.42" y="50.32" width="1.55" height="1.35" fill="#cfcfd0"/><rect x="125.52" y="53.02" width="1.55" height="1.35" fill="#d0cfcf"/><rect x="128.22" y="53.02" width="1.55" height="1.35" fill="#d0cfcf"/><rect x="130.92" y="53.02" width="1.55" height="1.35" fill="#d0cfcf"/><rect x="133.62" y="53.02" width="1.55" height="1.35" fill="#cfcfcf"/><rect x="136.32" y="53.02" width="1.55" height="1.35" fill="#cfcfcf"/><rect x="139.02" y="53.02" width="1.55" height="1.35" fill="#cfcfd0"/><rect x="141.72" y="53.02" width="1.55" height="1.35" fill="#cfcfd0"/><rect x="144.42" y="53.02" width="1.55" height="1.35" fill="#ceced0"/><rect x="147.12" y="53.02" width="1.55" height="1.35" fill="#cbcbd1"/><rect x="149.82" y="53.02" width="1.56" height="1.36" fill="#c4c4d2"/><rect x="152.52" y="53.01" width="1.56" height="1.37" fill="#b8b8d5"/><rect x="155.21" y="53.00" width="1.57" height="1.39" fill="#a5a5d9"/><rect x="157.91" y="52.99" width="1.58" height="1.42" fill="#8b8adf"/><rect x="160.60" y="52.98" width="1.60" height="1.45" fill="#6b6be6"/><rect x="163.29" y="52.96" width="1.61" height="1.48" fill="#4b4bed"/><rect x="165.99" y="52.95" width="1.63" height="1.50" fill="#2e2ef4"/><rect x="168.68" y="52.94" width="1.64" height="1.52" fill="#1a1af9"/><rect x="171.38" y="52.93" width="1.64" height="1.54" fill="#0e0efb"/><rect x="174.08" y="52.93" width="1.64" height="1.54" fill="#0a0afc"/><rect x="176.78" y="52.93" width="1.64" height="1.54" fill="#0d0dfb"/><rect x="179.48" y="52.94" width="1.64" height="1.53" fill="#1919f9"/><rect x="182.19" y="52.95" width="1.63" height="1.51" fill="#2d2df4"/><rect x="184.89" y="52.96" width="1.61" height="1.48" fill="#4848ee"/><rect x="187.60" y="52.98" width="1.60" height="1.45" fill="#6968e7"/><rect x="190.31" y="52.99" width="1.58" height="1.42" fill="#8888e0"/><rect x="193.01" y="53.00" width="1.57" height="1.39" fill="#a3a3d9"/><rect x="195.72" y="53.01" width="1.56" height="1.37" fill="#b7b7d5"/><rect x="198.42" y="53.02" width="1.56" height="1.36" fill="#c4c4d2"/><rect x="201.12" y="53.02" width="1.55" height="1.35" fill="#cbcbd1"/><rect x="203.82" y="53.02" width="1.55" height="1.35" fill="#ceced0"/><rect x="206.52" y="53.02" width="1.55" height="1.35" fill="#cfcfd0"/><rect x="209.22" y="53.02" width="1.55" height="1.35" fill="#cfcfd0"/><rect x="211.92" y="53.02" width="1.55" height="1.35" fill="#cfcfcf"/><rect x="214.62" y="53.02" width="1.55" height="1.35" fill="#cfcfcf"/><rect x="217.32" y="53.02" width="1.55" height="1.35" fill="#d0cfcf"/><rect x="220.02" y="53.02" width="1.55" height="1.35" fill="#d0cfcf"/><rect x="222.72" y="53.02" width="1.55" height="1.35" fill="#d0cfcf"/><rect x="225.42" y="53.02" width="1.55" height="1.35" fill="#d0cfcf"/><rect x="125.52" y="55.72" width="1.55" height="1.35" fill="#d0cfcf"/><rect x="128.22" y="55.72" width="1.55" height="1.35" fill="#d0cfcf"/><rect x="130.92" y="55.72" width="1.55" height="1.35" fill="#d0cfcf"/><rect x="133.62" y="55.72" width="1.55" height="1.35" fill="#d0cfcf"/><rect x="136.32" y="55.72" width="1.55" height="1.35" fill="#d0cfcf"/><rect x="139.02" y="55.72" width="1.55" height="1.35" fill="#cfcfcf"/><rect x="141.72" y="55.72" width="1.55" height="1.35" fill="#cfcfcf"/><rect x="144.42" y="55.72" width="1.55" height="1.35" fill="#cfced0"/><rect x="147.12" y="55.72" width="1.55" height="1.35" fill="#cdcdd0"/><rect x="149.82" y="55.72" width="1.55" height="1.36" fill="#c9c9d1"/><rect x="152.52" y="55.72" width="1.56" height="1.36" fill="#c2c1d2"/><rect x="155.22" y="55.71" width="1.56" height="1.38" fill="#b5b4d5"/><rect x="157.91" y="55.70" width="1.57" height="1.39" fill="#a3a2d9"/><rect x="160.61" y="55.69" width="1.58" height="1.42" fill="#8c8bde"/><rect x="163.30" y="55.68" width="1.59" height="1.44" fill="#7372e3"/><rect x="166.00" y="55.67" width="1.61" height="1.46" fill="#5c5ae9"/><rect x="168.69" y="55.66" width="1.61" height="1.48" fill="#4947ed"/><rect x="171.39" y="55.65" width="1.62" height="1.49" fill="#3d3bf0"/><rect x="174.09" y="55.65" width="1.62" height="1.50" fill="#3837f1"/><rect x="176.79" y="55.65" width="1.62" height="1.49" fill="#3c3bf0"/><rect x="179.49" y="55.66" width="1.62" height="1.48" fill="#4846ed"/><rect x="182.20" y="55.67" width="1.61" height="1.46" fill="#5a59e9"/><rect x="184.90" y="55.68" width="1.60" height="1.44" fill="#7170e4"/><rect x="187.61" y="55.69" width="1.58" height="1.42" fill="#8a89de"/><rect x="190.31" y="55.70" width="1.57" height="1.39" fill="#a1a0d9"/><rect x="193.02" y="55.71" width="1.56" height="1.38" fill="#b4b3d5"/><rect x="195.72" y="55.72" width="1.56" height="1.36" fill="#c1c0d3"/><rect x="198.42" y="55.72" width="1.55" height="1.36" fill="#c9c8d1"/><rect x="201.12" y="55.72" width="1.55" height="1.35" fill="#cdccd0"/><rect x="203.82" y="55.72" width="1.55" height="1.35" fill="#cfced0"/><rect x="206.52" y="55.72" width="1.55" height="1.35" fill="#cfcfcf"/><rect x="209.22" y="55.72" width="1.55" height="1.35" fill="#cfcfcf"/><rect x="211.92" y="55.72" width="1.55" height="1.35" fill="#cfcfcf"/><rect x="214.62" y="55.72" width="1.55" height="1.35" fill="#d0cfcf"/><rect x="217.32" y="55.72" width="1.55" height="1.35" fill="#d0cfcf"/><rect x="220.02" y="55.72" width="1.55" height="1.35" fill="#d0cfcf"/><rect x="222.72" y="55.72" width="1.55" height="1.35" fill="#d0cfcf"/><rect x="225.42" y="55.72" width="1.55" height="1.35" fill="#d0cfcf"/><rect x="125.52" y="58.42" width="1.55" height="1.35" fill="#d0cfcf"/><rect x="128.22" y="58.42" width="1.55" height="1.35" fill="#d0cfcf"/><rect x="130.92" y="58.42" width="1.55" height="1.35" fill="#d0cfcf"/><rect x="133.62" y="58.42" width="1.55" height="1.35" fill="#d0cfcf"/><rect x="136.32" y="58.42" width="1.55" height="1.35" fill="#d0cfcf"/><rect x="139.02" y="58.42" width="1.55" height="1.35" fill="#d0cfcf"/><rect x="141.72" y="58.42" width="1.55" height="1.35" fill="#d0cfcf"/><rect x="144.42" y="58.42" width="1.55" height="1.35" fill="#cfcfcf"/><rect x="147.12" y="58.42" width="1.55" height="1.35" fill="#cfcecf"/><rect x="149.82" y="58.42" width="1.55" height="1.35" fill="#cdcccf"/><rect x="152.52" y="58.42" width="1.55" height="1.36" fill="#cac8cf"/><rect x="155.22" y="58.42" width="1.56" height="1.36" fill="#c4c2d0"/><rect x="157.92" y="58.42" width="1.56" height="1.37" fill="#bcb8d1"/><rect x="160.62" y="58.41" width="1.57" height="1.38" fill="#b0abd2"/><rect x="163.31" y="58.40" width="1.57" height="1.39" fill="#a29cd4"/><rect x="166.01" y="58.40" width="1.58" height="1.41" fill="#948dd7"/><rect x="168.71" y="58.39" width="1.58" height="1.42" fill="#8880d9"/><rect x="171.41" y="58.39" width="1.59" height="1.43" fill="#8078db"/><rect x="174.10" y="58.38" width="1.59" height="1.43" fill="#7d75dc"/><rect x="176.81" y="58.39" width="1.59" height="1.43" fill="#8078db"/><rect x="179.51" y="58.39" width="1.59" height="1.42" fill="#8880da"/><rect x="182.21" y="58.40" width="1.58" height="1.41" fill="#938dd8"/><rect x="184.91" y="58.40" width="1.57" height="1.40" fill="#a19bd6"/><rect x="187.62" y="58.41" width="1.57" height="1.38" fill="#afabd4"/><rect x="190.32" y="58.41" width="1.56" height="1.37" fill="#bbb8d2"/><rect x="193.02" y="58.42" width="1.56" height="1.36" fill="#c4c2d1"/><rect x="195.72" y="58.42" width="1.55" height="1.36" fill="#cac8d0"/><rect x="198.42" y="58.42" width="1.55" height="1.35" fill="#cdcccf"/><rect x="201.12" y="58.42" width="1.55" height="1.35" fill="#cfcecf"/><rect x="203.82" y="58.42" width="1.55" height="1.35" fill="#cfcfcf"/><rect x="206.52" y="58.42" width="1.55" height="1.35" fill="#cfcfcf"/><rect x="209.22" y="58.42" width="1.55" height="1.35" fill="#d0cfcf"/><rect x="211.92" y="58.42" width="1.55" height="1.35" fill="#d0cfcf"/><rect x="214.62" y="58.42" width="1.55" height="1.35" fill="#d0cfcf"/><rect x="217.32" y="58.42" width="1.55" height="1.35" fill="#d0cfcf"/><rect x="220.02" y="58.42" width="1.55" height="1.35" fill="#d0cfcf"/><rect x="222.72" y="58.42" width="1.55" height="1.35" fill="#d0cfcf"/><rect x="225.42" y="58.42" width="1.55" height="1.35" fill="#d0cfcf"/><rect x="125.52" y="61.12" width="1.55" height="1.35" fill="#d0cfcf"/><rect x="128.22" y="61.12" width="1.55" height="1.35" fill="#d0cfcf"/><rect x="130.92" y="61.12" width="1.55" height="1.35" fill="#d0cfcf"/><rect x="133.62" y="61.12" width="1.55" height="1.35" fill="#d0cfcf"/><rect x="136.32" y="61.12" width="1.55" height="1.35" fill="#d0cfcf"/><rect x="139.02" y="61.12" width="1.55" height="1.35" fill="#d0cfcf"/><rect x="141.72" y="61.12" width="1.55" height="1.35" fill="#d0cece"/><rect x="144.42" y="61.12" width="1.55" height="1.35" fill="#d0cece"/><rect x="147.12" y="61.12" width="1.55" height="1.35" fill="#d0cdce"/><rect x="149.82" y="61.12" width="1.55" height="1.35" fill="#cfcccd"/><rect x="152.52" y="61.12" width="1.55" height="1.35" fill="#cfcacc"/><rect x="155.22" y="61.12" width="1.55" height="1.36" fill="#cdc7cb"/><rect x="157.92" y="61.12" width="1.55" height="1.36" fill="#cbc1c9"/><rect x="160.62" y="61.12" width="1.56" height="1.36" fill="#c8bac6"/><rect x="163.32" y="61.12" width="1.56" height="1.37" fill="#c4b1c4"/><rect x="166.02" y="61.12" width="1.56" height="1.37" fill="#bfa8c2"/><rect x="168.72" y="61.11" width="1.56" height="1.37" fill="#baa1c1"/><rect x="171.42" y="61.11" width="1.56" height="1.38" fill="#b79dc1"/><rect x="174.12" y="61.11" width="1.56" height="1.38" fill="#b69cc1"/><rect x="176.82" y="61.11" width="1.56" height="1.38" fill="#b79ec2"/><rect x="179.52" y="61.11" width="1.56" height="1.37" fill="#baa3c2"/><rect x="182.22" y="61.11" width="1.56" height="1.37" fill="#beaac4"/><rect x="184.92" y="61.12" width="1.56" height="1.37" fill="#c3b3c6"/><rect x="187.62" y="61.12" width="1.56" height="1.36" fill="#c7bcc9"/><rect x="190.32" y="61.12" width="1.55" height="1.36" fill="#cac3cb"/><rect x="193.02" y="61.12" width="1.55" height="1.35" fill="#cdc8cc"/><rect x="195.72" y="61.12" width="1.55" height="1.35" fill="#cecbcd"/><rect x="198.42" y="61.12" width="1.55" height="1.35" fill="#cfcdce"/><rect x="201.12" y="61.12" width="1.55" height="1.35" fill="#d0cece"/><rect x="203.82" y="61.12" width="1.55" height="1.35" fill="#d0cece"/><rect x="206.52" y="61.12" width="1.55" height="1.35" fill="#d0cfcf"/><rect x="209.22" y="61.12" width="1.55" height="1.35" fill="#d0cfcf"/><rect x="211.92" y="61.12" width="1.55" height="1.35" fill="#d0cfcf"/><rect x="214.62" y="61.12" width="1.55" height="1.35" fill="#d0cfcf"/><rect x="217.32" y="61.12" width="1.55" height="1.35" fill="#d0cfcf"/><rect x="220.02" y="61.12" width="1.55" height="1.35" fill="#d0cfcf"/><rect x="222.72" y="61.12" width="1.55" height="1.35" fill="#d0cfcf"/><rect x="225.42" y="61.12" width="1.55" height="1.35" fill="#d0cfcf"/><rect x="125.52" y="63.82" width="1.55" height="1.35" fill="#d0cfcf"/><rect x="128.22" y="63.82" width="1.55" height="1.35" fill="#d0cfcf"/><rect x="130.92" y="63.82" width="1.55" height="1.35" fill="#d0cfcf"/><rect x="133.62" y="63.82" width="1.55" height="1.35" fill="#d0cfcf"/><rect x="136.32" y="63.82" width="1.55" height="1.35" fill="#d0cece"/><rect x="139.02" y="63.82" width="1.55" height="1.35" fill="#d0cece"/><rect x="141.72" y="63.82" width="1.55" height="1.35" fill="#d0cdcd"/><rect x="144.42" y="63.82" width="1.55" height="1.35" fill="#d0cdcd"/><rect x="147.12" y="63.82" width="1.55" height="1.35" fill="#d0cccc"/><rect x="149.82" y="63.82" width="1.55" height="1.35" fill="#d0cbcb"/><rect x="152.52" y="63.82" width="1.55" height="1.36" fill="#d1c8c9"/><rect x="155.22" y="63.82" width="1.56" height="1.36" fill="#d1c5c5"/><rect x="157.92" y="63.82" width="1.56" height="1.37" fill="#d2bfc0"/><rect x="160.62" y="63.81" width="1.56" height="1.37" fill="#d3b7b9"/><rect x="163.32" y="63.81" width="1.56" height="1.38" fill="#d3aeb2"/><rect x="166.02" y="63.81" width="1.57" height="1.39" fill="#d4a6ab"/><rect x="168.71" y="63.80" width="1.57" height="1.39" fill="#d3a0a7"/><rect x="171.41" y="63.80" width="1.57" height="1.39" fill="#d39da5"/><rect x="174.11" y="63.80" width="1.57" height="1.39" fill="#d39da5"/><rect x="176.81" y="63.80" width="1.57" height="1.39" fill="#d39ea6"/><rect x="179.52" y="63.81" width="1.57" height="1.39" fill="#d3a3aa"/><rect x="182.22" y="63.81" width="1.57" height="1.38" fill="#d2aab0"/><rect x="184.92" y="63.81" width="1.56" height="1.37" fill="#d2b3b7"/><rect x="187.62" y="63.82" width="1.56" height="1.37" fill="#d1bcbe"/><rect x="190.32" y="63.82" width="1.56" height="1.36" fill="#d1c2c4"/><rect x="193.02" y="63.82" width="1.55" height="1.36" fill="#d1c7c8"/><rect x="195.72" y="63.82" width="1.55" height="1.36" fill="#d0caca"/><rect x="198.42" y="63.82" width="1.55" height="1.35" fill="#d0cbcc"/><rect x="201.12" y="63.82" width="1.55" height="1.35" fill="#d0cccc"/><rect x="203.82" y="63.82" width="1.55" height="1.35" fill="#d0cdcd"/><rect x="206.52" y="63.82" width="1.55" height="1.35" fill="#d0cece"/><rect x="209.22" y="63.82" width="1.55" height="1.35" fill="#d0cece"/><rect x="211.92" y="63.82" width="1.55" height="1.35" fill="#d0cece"/><rect x="214.62" y="63.82" width="1.55" height="1.35" fill="#d0cfcf"/><rect x="217.32" y="63.82" width="1.55" height="1.35" fill="#d0cfcf"/><rect x="220.02" y="63.82" width="1.55" height="1.35" fill="#d0cfcf"/><rect x="222.72" y="63.82" width="1.55" height="1.35" fill="#d0cfcf"/><rect x="225.42" y="63.82" width="1.55" height="1.35" fill="#d0cfcf"/><rect x="125.52" y="66.52" width="1.55" height="1.35" fill="#d0cfcf"/><rect x="128.22" y="66.52" width="1.55" height="1.35" fill="#d0cfcf"/><rect x="130.92" y="66.52" width="1.55" height="1.35" fill="#d0cece"/><rect x="133.62" y="66.52" width="1.55" height="1.35" fill="#d0cece"/><rect x="136.32" y="66.52" width="1.55" height="1.35" fill="#d0cdcd"/><rect x="139.02" y="66.52" width="1.55" height="1.35" fill="#d0cdcd"/><rect x="141.72" y="66.52" width="1.55" height="1.35" fill="#d0cccc"/><rect x="144.42" y="66.52" width="1.55" height="1.35" fill="#d1cbcb"/><rect x="147.12" y="66.52" width="1.55" height="1.36" fill="#d1c9c9"/><rect x="149.82" y="66.52" width="1.55" height="1.36" fill="#d1c7c7"/><rect x="152.52" y="66.52" width="1.56" height="1.36" fill="#d2c4c4"/><rect x="155.22" y="66.52" width="1.56" height="1.37" fill="#d3bebe"/><rect x="157.92" y="66.51" width="1.56" height="1.38" fill="#d5b5b5"/><rect x="160.62" y="66.51" width="1.57" height="1.39" fill="#d8aaaa"/><rect x="163.31" y="66.50" width="1.57" height="1.40" fill="#da9d9e"/><rect x="166.01" y="66.50" width="1.58" height="1.41" fill="#dd9293"/><rect x="168.71" y="66.49" width="1.58" height="1.42" fill="#de8a8b"/><rect x="171.41" y="66.49" width="1.58" height="1.42" fill="#df8788"/><rect x="174.11" y="66.49" width="1.58" height="1.42" fill="#df8788"/><rect x="176.81" y="66.49" width="1.58" height="1.42" fill="#de898a"/><rect x="179.51" y="66.49" width="1.58" height="1.41" fill="#dd8f90"/><rect x="182.21" y="66.50" width="1.58" height="1.40" fill="#db999a"/><rect x="184.91" y="66.50" width="1.57" height="1.39" fill="#d9a5a6"/><rect x="187.62" y="66.51" width="1.56" height="1.38" fill="#d6b1b2"/><rect x="190.32" y="66.52" width="1.56" height="1.37" fill="#d4bbbb"/><rect x="193.02" y="66.52" width="1.56" height="1.36" fill="#d2c2c2"/><rect x="195.72" y="66.52" width="1.55" height="1.36" fill="#d2c6c6"/><rect x="198.42" y="66.52" width="1.55" height="1.36" fill="#d1c9c9"/><rect x="201.12" y="66.52" width="1.55" height="1.35" fill="#d1caca"/><rect x="203.82" y="66.52" width="1.55" height="1.35" fill="#d0cccc"/><rect x="206.52" y="66.52" width="1.55" height="1.35" fill="#d0cccc"/><rect x="209.22" y="66.52" width="1.55" height="1.35" fill="#d0cdcd"/><rect x="211.92" y="66.52" width="1.55" height="1.35" fill="#d0cece"/><rect x="214.62" y="66.52" width="1.55" height="1.35" fill="#d0cece"/><rect x="217.32" y="66.52" width="1.55" height="1.35" fill="#d0cfcf"/><rect x="220.02" y="66.52" width="1.55" height="1.35" fill="#d0cfcf"/><rect x="222.72" y="66.52" width="1.55" height="1.35" fill="#d0cfcf"/><rect x="225.42" y="66.52" width="1.55" height="1.35" fill="#d0cfcf"/><rect x="125.52" y="69.22" width="1.55" height="1.35" fill="#d0cece"/><rect x="128.22" y="69.22" width="1.55" height="1.35" fill="#d0cece"/><rect x="130.92" y="69.22" width="1.55" height="1.35" fill="#d0cece"/><rect x="133.62" y="69.22" width="1.55" height="1.35" fill="#d0cdcd"/><rect x="136.32" y="69.22" width="1.55" height="1.35" fill="#d0cccc"/><rect x="139.02" y="69.22" width="1.55" height="1.35" fill="#d1cbcb"/><rect x="141.72" y="69.22" width="1.55" height="1.36" fill="#d1caca"/><rect x="144.42" y="69.22" width="1.55" height="1.36" fill="#d1c8c8"/><rect x="147.12" y="69.22" width="1.55" height="1.36" fill="#d2c6c6"/><rect x="149.82" y="69.22" width="1.56" height="1.36" fill="#d2c3c3"/><rect x="152.52" y="69.22" width="1.56" height="1.37" fill="#d4bdbd"/><rect x="155.22" y="69.21" width="1.56" height="1.38" fill="#d6b4b4"/><rect x="157.92" y="69.21" width="1.57" height="1.39" fill="#d9a8a8"/><rect x="160.61" y="69.20" width="1.58" height="1.40" fill="#dc9797"/><rect x="163.31" y="69.19" width="1.59" height="1.42" fill="#e08787"/><rect x="166.00" y="69.18" width="1.59" height="1.43" fill="#e37878"/><rect x="168.70" y="69.18" width="1.60" height="1.44" fill="#e56e6e"/><rect x="171.40" y="69.18" width="1.60" height="1.45" fill="#e6696a"/><rect x="174.10" y="69.18" width="1.60" height="1.45" fill="#e76969"/><rect x="176.80" y="69.18" width="1.60" height="1.45" fill="#e66c6c"/><rect x="179.50" y="69.18" width="1.59" height="1.44" fill="#e47474"/><rect x="182.21" y="69.19" width="1.59" height="1.43" fill="#e18181"/><rect x="184.91" y="69.20" width="1.58" height="1.41" fill="#dd9292"/><rect x="187.61" y="69.20" width="1.57" height="1.39" fill="#daa2a2"/><rect x="190.32" y="69.21" width="1.56" height="1.38" fill="#d6b1b1"/><rect x="193.02" y="69.22" width="1.56" height="1.37" fill="#d4bbbb"/><rect x="195.72" y="69.22" width="1.56" height="1.36" fill="#d3c1c1"/><rect x="198.42" y="69.22" width="1.55" height="1.36" fill="#d2c5c5"/><rect x="201.12" y="69.22" width="1.55" height="1.36" fill="#d1c8c8"/><rect x="203.82" y="69.22" width="1.55" height="1.36" fill="#d1c9c9"/><rect x="206.52" y="69.22" width="1.55" height="1.35" fill="#d1cbcb"/><rect x="209.22" y="69.22" width="1.55" height="1.35" fill="#d0cccc"/><rect x="211.92" y="69.22" width="1.55" height="1.35" fill="#d0cdcd"/><rect x="214.62" y="69.22" width="1.55" height="1.35" fill="#d0cdcd"/><rect x="217.32" y="69.22" width="1.55" height="1.35" fill="#d0cece"/><rect x="220.02" y="69.22" width="1.55" height="1.35" fill="#d0cece"/><rect x="222.72" y="69.22" width="1.55" height="1.35" fill="#d0cfcf"/><rect x="225.42" y="69.22" width="1.55" height="1.35" fill="#d0cfcf"/><rect x="125.52" y="71.92" width="1.55" height="1.35" fill="#d0cece"/><rect x="128.22" y="71.92" width="1.55" height="1.35" fill="#d0cdcd"/><rect x="130.92" y="71.92" width="1.55" height="1.35" fill="#d0cccc"/><rect x="133.62" y="71.92" width="1.55" height="1.35" fill="#d0cccc"/><rect x="136.32" y="71.92" width="1.55" height="1.35" fill="#d1caca"/><rect x="139.02" y="71.92" width="1.55" height="1.36" fill="#d1c9c9"/><rect x="141.72" y="71.92" width="1.55" height="1.36" fill="#d1c7c7"/><rect x="144.42" y="71.92" width="1.55" height="1.36" fill="#d2c5c5"/><rect x="147.12" y="71.92" width="1.56" height="1.36" fill="#d2c2c2"/><rect x="149.82" y="71.92" width="1.56" height="1.37" fill="#d4bdbd"/><rect x="152.52" y="71.91" width="1.56" height="1.38" fill="#d5b5b5"/><rect x="155.22" y="71.91" width="1.57" height="1.39" fill="#d8a9a9"/><rect x="157.91" y="71.90" width="1.58" height="1.40" fill="#dc9898"/><rect x="160.61" y="71.89" width="1.59" height="1.42" fill="#e18383"/><rect x="163.30" y="71.88" width="1.60" height="1.44" fill="#e56e6e"/><rect x="166.00" y="71.87" width="1.61" height="1.46" fill="#e95d5d"/><rect x="168.69" y="71.86" width="1.61" height="1.47" fill="#ec5151"/><rect x="171.39" y="71.86" width="1.61" height="1.48" fill="#ed4c4c"/><rect x="174.09" y="71.86" width="1.61" height="1.48" fill="#ed4b4b"/><rect x="176.79" y="71.86" width="1.61" height="1.47" fill="#ed4e4e"/><rect x="179.50" y="71.87" width="1.61" height="1.46" fill="#ea5858"/><rect x="182.20" y="71.88" width="1.60" height="1.45" fill="#e76868"/><rect x="184.90" y="71.88" width="1.59" height="1.43" fill="#e27c7c"/><rect x="187.61" y="71.90" width="1.58" height="1.41" fill="#de9191"/><rect x="190.31" y="71.90" width="1.57" height="1.39" fill="#d9a4a4"/><rect x="193.02" y="71.91" width="1.56" height="1.38" fill="#d6b2b2"/><rect x="195.72" y="71.92" width="1.56" height="1.37" fill="#d4bbbb"/><rect x="198.42" y="71.92" width="1.56" height="1.36" fill="#d3c1c1"/><rect x="201.12" y="71.92" width="1.56" height="1.36" fill="#d2c4c4"/><rect x="203.82" y="71.92" width="1.55" height="1.36" fill="#d1c7c7"/><rect x="206.52" y="71.92" width="1.55" height="1.36" fill="#d1c9c9"/><rect x="209.22" y="71.92" width="1.55" height="1.36" fill="#d1caca"/><rect x="211.92" y="71.92" width="1.55" height="1.35" fill="#d0cbcb"/><rect x="214.62" y="71.92" width="1.55" height="1.35" fill="#d0cccc"/><rect x="217.32" y="71.92" width="1.55" height="1.35" fill="#d0cdcd"/><rect x="220.02" y="71.92" width="1.55" height="1.35" fill="#d0cece"/><rect x="222.72" y="71.92" width="1.55" height="1.35" fill="#d0cece"/><rect x="225.42" y="71.92" width="1.55" height="1.35" fill="#d0cfcf"/><rect x="125.52" y="74.62" width="1.55" height="1.35" fill="#d0cdcd"/><rect x="128.22" y="74.62" width="1.55" height="1.35" fill="#d0cccc"/><rect x="130.92" y="74.62" width="1.55" height="1.35" fill="#d0cbcb"/><rect x="133.62" y="74.62" width="1.55" height="1.36" fill="#d1caca"/><rect x="136.32" y="74.62" width="1.55" height="1.36" fill="#d1c9c9"/><rect x="139.02" y="74.62" width="1.55" height="1.36" fill="#d1c7c7"/><rect x="141.72" y="74.62" width="1.56" height="1.36" fill="#d2c5c5"/><rect x="144.42" y="74.62" width="1.56" height="1.36" fill="#d3c2c2"/><rect x="147.12" y="74.62" width="1.56" height="1.37" fill="#d3bebe"/><rect x="149.82" y="74.61" width="1.56" height="1.37" fill="#d5b7b7"/><rect x="152.52" y="74.61" width="1.57" height="1.38" fill="#d7adad"/><rect x="155.21" y="74.60" width="1.57" height="1.40" fill="#db9d9d"/><rect x="157.91" y="74.59" width="1.58" height="1.42" fill="#e08888"/><rect x="160.60" y="74.58" width="1.60" height="1.44" fill="#e57070"/><rect x="163.30" y="74.57" width="1.61" height="1.46" fill="#ea5858"/><rect x="165.99" y="74.56" width="1.62" height="1.48" fill="#ef4444"/><rect x="168.69" y="74.55" width="1.62" height="1.50" fill="#f23737"/><rect x="171.39" y="74.55" width="1.63" height="1.50" fill="#f33131"/><rect x="174.09" y="74.55" width="1.63" height="1.50" fill="#f33131"/><rect x="176.79" y="74.55" width="1.62" height="1.50" fill="#f33434"/><rect x="179.49" y="74.56" width="1.62" height="1.49" fill="#f03f3f"/><rect x="182.19" y="74.56" width="1.61" height="1.47" fill="#ec5151"/><rect x="184.90" y="74.58" width="1.60" height="1.45" fill="#e76868"/><rect x="187.61" y="74.59" width="1.59" height="1.43" fill="#e18080"/><rect x="190.31" y="74.60" width="1.58" height="1.40" fill="#dc9696"/><rect x="193.02" y="74.61" width="1.57" height="1.39" fill="#d8a8a8"/><rect x="195.72" y="74.61" width="1.56" height="1.38" fill="#d6b4b4"/><rect x="198.42" y="74.62" width="1.56" height="1.37" fill="#d4bcbc"/><rect x="201.12" y="74.62" width="1.56" height="1.36" fill="#d3c1c1"/><rect x="203.82" y="74.62" width="1.56" height="1.36" fill="#d2c4c4"/><rect x="206.52" y="74.62" width="1.55" height="1.36" fill="#d2c6c6"/><rect x="209.22" y="74.62" width="1.55" height="1.36" fill="#d1c8c8"/><rect x="211.92" y="74.62" width="1.55" height="1.36" fill="#d1caca"/><rect x="214.62" y="74.62" width="1.55" height="1.35" fill="#d1cbcb"/><rect x="217.32" y="74.62" width="1.55" height="1.35" fill="#d0cccc"/><rect x="220.02" y="74.62" width="1.55" height="1.35" fill="#d0cdcd"/><rect x="222.72" y="74.62" width="1.55" height="1.35" fill="#d0cece"/><rect x="225.42" y="74.62" width="1.55" height="1.35" fill="#d0cece"/><rect x="125.52" y="77.32" width="1.55" height="1.35" fill="#d0cccc"/><rect x="128.22" y="77.32" width="1.55" height="1.35" fill="#d0cbcb"/><rect x="130.92" y="77.32" width="1.55" height="1.36" fill="#d1caca"/><rect x="133.62" y="77.32" width="1.55" height="1.36" fill="#d1c9c9"/><rect x="136.32" y="77.32" width="1.55" height="1.36" fill="#d1c7c7"/><rect x="139.02" y="77.32" width="1.56" height="1.36" fill="#d2c5c5"/><rect x="141.72" y="77.32" width="1.56" height="1.36" fill="#d2c2c2"/><rect x="144.42" y="77.32" width="1.56" height="1.37" fill="#d3bfbf"/><rect x="147.12" y="77.31" width="1.56" height="1.37" fill="#d4baba"/><rect x="149.82" y="77.31" width="1.56" height="1.38" fill="#d6b1b1"/><rect x="152.51" y="77.30" width="1.57" height="1.39" fill="#d9a4a4"/><rect x="155.21" y="77.30" width="1.58" height="1.41" fill="#dd9292"/><rect x="157.90" y="77.28" width="1.59" height="1.43" fill="#e37a7a"/><rect x="160.60" y="77.27" width="1.60" height="1.46" fill="#e96060"/><rect x="163.29" y="77.26" width="1.62" height="1.48" fill="#ef4646"/><rect x="165.99" y="77.25" width="1.63" height="1.50" fill="#f33131"/><rect x="168.68" y="77.24" width="1.63" height="1.52" fill="#f62323"/><rect x="171.38" y="77.24" width="1.64" height="1.52" fill="#f81d1d"/><rect x="174.08" y="77.24" width="1.64" height="1.52" fill="#f81c1c"/><rect x="176.78" y="77.24" width="1.63" height="1.52" fill="#f72020"/><rect x="179.49" y="77.25" width="1.63" height="1.51" fill="#f52b2b"/><rect x="182.19" y="77.26" width="1.62" height="1.49" fill="#f03e3e"/><rect x="184.90" y="77.27" width="1.61" height="1.47" fill="#eb5757"/><rect x="187.60" y="77.28" width="1.60" height="1.44" fill="#e57272"/><rect x="190.31" y="77.29" width="1.58" height="1.42" fill="#df8b8b"/><rect x="193.01" y="77.30" width="1.57" height="1.40" fill="#da9f9f"/><rect x="195.72" y="77.31" width="1.57" height="1.38" fill="#d7aeae"/><rect x="198.42" y="77.31" width="1.56" height="1.37" fill="#d5b7b7"/><rect x="201.12" y="77.32" width="1.56" height="1.37" fill="#d4bdbd"/><rect x="203.82" y="77.32" width="1.56" height="1.36" fill="#d3c1c1"/><rect x="206.52" y="77.32" width="1.56" height="1.36" fill="#d2c4c4"/><rect x="209.22" y="77.32" width="1.55" height="1.36" fill="#d2c6c6"/><rect x="211.92" y="77.32" width="1.55" height="1.36" fill="#d1c8c8"/><rect x="214.62" y="77.32" width="1.55" height="1.36" fill="#d1caca"/><rect x="217.32" y="77.32" width="1.55" height="1.35" fill="#d1cbcb"/><rect x="220.02" y="77.32" width="1.55" height="1.35" fill="#d0cccc"/><rect x="222.72" y="77.32" width="1.55" height="1.35" fill="#d0cdcd"/><rect x="225.42" y="77.32" width="1.55" height="1.35" fill="#d0cece"/><rect x="125.52" y="80.02" width="1.55" height="1.35" fill="#d0cccc"/><rect x="128.22" y="80.02" width="1.55" height="1.35" fill="#d1cbcb"/><rect x="130.92" y="80.02" width="1.55" height="1.36" fill="#d1c9c9"/><rect x="133.62" y="80.02" width="1.55" height="1.36" fill="#d1c8c8"/><rect x="136.32" y="80.02" width="1.55" height="1.36" fill="#d2c6c6"/><rect x="139.02" y="80.02" width="1.56" height="1.36" fill="#d2c3c3"/><rect x="141.72" y="80.02" width="1.56" height="1.36" fill="#d3c1c1"/><rect x="144.42" y="80.02" width="1.56" height="1.37" fill="#d4bdbd"/><rect x="147.12" y="80.01" width="1.56" height="1.37" fill="#d5b6b6"/><rect x="149.82" y="80.01" width="1.57" height="1.38" fill="#d7adad"/><rect x="152.51" y="80.00" width="1.57" height="1.40" fill="#db9e9e"/><rect x="155.21" y="79.99" width="1.58" height="1.42" fill="#df8a8a"/><rect x="157.90" y="79.98" width="1.60" height="1.44" fill="#e57070"/><rect x="160.60" y="79.97" width="1.61" height="1.47" fill="#eb5454"/><rect x="163.29" y="79.95" width="1.62" height="1.49" fill="#f13939"/><rect x="165.98" y="79.94" width="1.63" height="1.52" fill="#f62323"/><rect x="168.68" y="79.94" width="1.64" height="1.53" fill="#fa1515"/><rect x="171.38" y="79.93" width="1.64" height="1.53" fill="#fb0f0f"/><rect x="174.08" y="79.93" width="1.64" height="1.54" fill="#fb0f0f"/><rect x="176.78" y="79.93" width="1.64" height="1.53" fill="#fa1212"/><rect x="179.48" y="79.94" width="1.64" height="1.52" fill="#f81e1e"/><rect x="182.19" y="79.95" width="1.63" height="1.50" fill="#f33131"/><rect x="184.89" y="79.96" width="1.61" height="1.48" fill="#ed4b4b"/><rect x="187.60" y="79.97" width="1.60" height="1.45" fill="#e76767"/><rect x="190.31" y="79.99" width="1.59" height="1.42" fill="#e18282"/><rect x="193.01" y="80.00" width="1.58" height="1.40" fill="#dc9898"/><rect x="195.72" y="80.01" width="1.57" height="1.39" fill="#d8a9a9"/><rect x="198.42" y="80.01" width="1.56" height="1.38" fill="#d6b4b4"/><rect x="201.12" y="80.02" width="1.56" height="1.37" fill="#d4bbbb"/><rect x="203.82" y="80.02" width="1.56" height="1.37" fill="#d3bfbf"/><rect x="206.52" y="80.02" width="1.56" height="1.36" fill="#d2c3c3"/><rect x="209.22" y="80.02" width="1.56" height="1.36" fill="#d2c5c5"/><rect x="211.92" y="80.02" width="1.55" height="1.36" fill="#d1c7c7"/><rect x="214.62" y="80.02" width="1.55" height="1.36" fill="#d1c9c9"/><rect x="217.32" y="80.02" width="1.55" height="1.36" fill="#d1caca"/><rect x="220.02" y="80.02" width="1.55" height="1.35" fill="#d0cbcb"/><rect x="222.72" y="80.02" width="1.55" height="1.35" fill="#d0cccc"/><rect x="225.42" y="80.02" width="1.55" height="1.35" fill="#d0cdcd"/><rect x="125.52" y="82.72" width="1.55" height="1.35" fill="#d0cbcb"/><rect x="128.22" y="82.72" width="1.55" height="1.36" fill="#d1caca"/><rect x="130.92" y="82.72" width="1.55" height="1.36" fill="#d1c9c9"/><rect x="133.62" y="82.72" width="1.55" height="1.36" fill="#d1c7c7"/><rect x="136.32" y="82.72" width="1.56" height="1.36" fill="#d2c5c5"/><rect x="139.02" y="82.72" width="1.56" height="1.36" fill="#d2c3c3"/><rect x="141.72" y="82.72" width="1.56" height="1.37" fill="#d3bfbf"/><rect x="144.42" y="82.72" width="1.56" height="1.37" fill="#d4bbbb"/><rect x="147.12" y="82.71" width="1.56" height="1.38" fill="#d6b4b4"/><rect x="149.82" y="82.71" width="1.57" height="1.39" fill="#d8aaaa"/><rect x="152.51" y="82.70" width="1.58" height="1.40" fill="#db9a9a"/><rect x="155.21" y="82.69" width="1.59" height="1.42" fill="#e08585"/><rect x="157.90" y="82.68" width="1.60" height="1.45" fill="#e66a6a"/><rect x="160.59" y="82.66" width="1.61" height="1.48" fill="#ed4d4d"/><rect x="163.29" y="82.65" width="1.63" height="1.50" fill="#f33232"/><rect x="165.98" y="82.64" width="1.64" height="1.52" fill="#f81c1c"/><rect x="168.68" y="82.63" width="1.64" height="1.54" fill="#fb0d0d"/><rect x="171.38" y="82.63" width="1.65" height="1.54" fill="#fd0707"/><rect x="174.08" y="82.63" width="1.65" height="1.54" fill="#fd0606"/><rect x="176.78" y="82.63" width="1.64" height="1.54" fill="#fc0a0a"/><rect x="179.48" y="82.64" width="1.64" height="1.53" fill="#f91616"/><rect x="182.19" y="82.65" width="1.63" height="1.51" fill="#f52a2a"/><rect x="184.89" y="82.66" width="1.62" height="1.48" fill="#ef4444"/><rect x="187.60" y="82.67" width="1.60" height="1.46" fill="#e96161"/><rect x="190.31" y="82.69" width="1.59" height="1.43" fill="#e27d7d"/><rect x="193.01" y="82.70" width="1.58" height="1.41" fill="#dd9494"/><rect x="195.71" y="82.70" width="1.57" height="1.39" fill="#d9a5a5"/><rect x="198.42" y="82.71" width="1.56" height="1.38" fill="#d6b2b2"/><rect x="201.12" y="82.71" width="1.56" height="1.37" fill="#d5b9b9"/><rect x="203.82" y="82.72" width="1.56" height="1.37" fill="#d3bebe"/><rect x="206.52" y="82.72" width="1.56" height="1.36" fill="#d3c2c2"/><rect x="209.22" y="82.72" width="1.56" height="1.36" fill="#d2c4c4"/><rect x="211.92" y="82.72" width="1.55" height="1.36" fill="#d2c6c6"/><rect x="214.62" y="82.72" width="1.55" height="1.36" fill="#d1c8c8"/><rect x="217.32" y="82.72" width="1.55" height="1.36" fill="#d1caca"/><rect x="220.02" y="82.72" width="1.55" height="1.35" fill="#d1cbcb"/><rect x="222.72" y="82.72" width="1.55" height="1.35" fill="#d0cccc"/><rect x="225.42" y="82.72" width="1.55" height="1.35" fill="#d0cdcd"/><rect x="125.52" y="85.42" width="1.55" height="1.35" fill="#d0cbcb"/><rect x="128.22" y="85.42" width="1.55" height="1.36" fill="#d1caca"/><rect x="130.92" y="85.42" width="1.55" height="1.36" fill="#d1c8c8"/><rect x="133.62" y="85.42" width="1.55" height="1.36" fill="#d1c7c7"/><rect x="136.32" y="85.42" width="1.56" height="1.36" fill="#d2c5c5"/><rect x="139.02" y="85.42" width="1.56" height="1.36" fill="#d3c2c2"/><rect x="141.72" y="85.42" width="1.56" height="1.37" fill="#d3bfbf"/><rect x="144.42" y="85.41" width="1.56" height="1.37" fill="#d4baba"/><rect x="147.12" y="85.41" width="1.56" height="1.38" fill="#d6b3b3"/><rect x="149.82" y="85.41" width="1.57" height="1.39" fill="#d8a9a9"/><rect x="152.51" y="85.40" width="1.58" height="1.40" fill="#dc9999"/><rect x="155.21" y="85.39" width="1.59" height="1.42" fill="#e18383"/><rect x="157.90" y="85.37" width="1.60" height="1.45" fill="#e76767"/><rect x="160.59" y="85.36" width="1.61" height="1.48" fill="#ee4a4a"/><rect x="163.29" y="85.35" width="1.63" height="1.51" fill="#f42e2e"/><rect x="165.98" y="85.34" width="1.64" height="1.53" fill="#f91818"/><rect x="168.68" y="85.33" width="1.65" height="1.54" fill="#fc0909"/><rect x="171.38" y="85.33" width="1.65" height="1.55" fill="#fe0303"/><rect x="174.08" y="85.33" width="1.65" height="1.55" fill="#fe0202"/><rect x="176.78" y="85.33" width="1.65" height="1.54" fill="#fd0606"/><rect x="179.48" y="85.33" width="1.64" height="1.53" fill="#fa1212"/><rect x="182.18" y="85.34" width="1.63" height="1.51" fill="#f62626"/><rect x="184.89" y="85.36" width="1.62" height="1.49" fill="#f04040"/><rect x="187.60" y="85.37" width="1.60" height="1.46" fill="#e95e5e"/><rect x="190.30" y="85.38" width="1.59" height="1.43" fill="#e37a7a"/><rect x="193.01" y="85.40" width="1.58" height="1.41" fill="#dd9292"/><rect x="195.71" y="85.40" width="1.57" height="1.39" fill="#d9a4a4"/><rect x="198.42" y="85.41" width="1.56" height="1.38" fill="#d7b0b0"/><rect x="201.12" y="85.41" width="1.56" height="1.37" fill="#d5b8b8"/><rect x="203.82" y="85.42" width="1.56" height="1.37" fill="#d4bebe"/><rect x="206.52" y="85.42" width="1.56" height="1.36" fill="#d3c1c1"/><rect x="209.22" y="85.42" width="1.56" height="1.36" fill="#d2c4c4"/><rect x="211.92" y="85.42" width="1.55" height="1.36" fill="#d2c6c6"/><rect x="214.62" y="85.42" width="1.55" height="1.36" fill="#d1c8c8"/><rect x="217.32" y="85.42" width="1.55" height="1.36" fill="#d1c9c9"/><rect x="220.02" y="85.42" width="1.55" height="1.35" fill="#d1cbcb"/><rect x="222.72" y="85.42" width="1.55" height="1.35" fill="#d0cccc"/><rect x="225.42" y="85.42" width="1.55" height="1.35" fill="#d0cdcd"/><rect x="125.52" y="88.12" width="1.55" height="1.35" fill="#d1cbcb"/><rect x="128.22" y="88.12" width="1.55" height="1.36" fill="#d1caca"/><rect x="130.92" y="88.12" width="1.55" height="1.36" fill="#d1c8c8"/><rect x="133.62" y="88.12" width="1.55" height="1.36" fill="#d2c7c7"/><rect x="136.32" y="88.12" width="1.56" height="1.36" fill="#d2c4c4"/><rect x="139.02" y="88.12" width="1.56" height="1.36" fill="#d3c2c2"/><rect x="141.72" y="88.12" width="1.56" height="1.37" fill="#d3bfbf"/><rect x="144.42" y="88.11" width="1.56" height="1.37" fill="#d4baba"/><rect x="147.12" y="88.11" width="1.56" height="1.38" fill="#d6b3b3"/><rect x="149.82" y="88.11" width="1.57" height="1.39" fill="#d8a8a8"/><rect x="152.51" y="88.10" width="1.58" height="1.40" fill="#dc9898"/><rect x="155.21" y="88.09" width="1.59" height="1.42" fill="#e18282"/><rect x="157.90" y="88.07" width="1.60" height="1.45" fill="#e76666"/><rect x="160.59" y="88.06" width="1.61" height="1.48" fill="#ee4949"/><rect x="163.29" y="88.05" width="1.63" height="1.51" fill="#f42d2d"/><rect x="165.98" y="88.04" width="1.64" height="1.53" fill="#f91616"/><rect x="168.68" y="88.03" width="1.65" height="1.54" fill="#fd0808"/><rect x="171.38" y="88.03" width="1.65" height="1.55" fill="#fe0101"/><rect x="174.08" y="88.03" width="1.65" height="1.55" fill="#fe0101"/><rect x="176.78" y="88.03" width="1.65" height="1.55" fill="#fd0505"/><rect x="179.48" y="88.03" width="1.64" height="1.53" fill="#fb1010"/><rect x="182.18" y="88.04" width="1.63" height="1.51" fill="#f62424"/><rect x="184.89" y="88.06" width="1.62" height="1.49" fill="#f03f3f"/><rect x="187.60" y="88.07" width="1.61" height="1.46" fill="#ea5c5c"/><rect x="190.30" y="88.08" width="1.59" height="1.43" fill="#e37979"/><rect x="193.01" y="88.10" width="1.58" height="1.41" fill="#de9191"/><rect x="195.71" y="88.10" width="1.57" height="1.39" fill="#d9a3a3"/><rect x="198.42" y="88.11" width="1.57" height="1.38" fill="#d7b0b0"/><rect x="201.12" y="88.11" width="1.56" height="1.37" fill="#d5b8b8"/><rect x="203.82" y="88.12" width="1.56" height="1.37" fill="#d4bdbd"/><rect x="206.52" y="88.12" width="1.56" height="1.36" fill="#d3c1c1"/><rect x="209.22" y="88.12" width="1.56" height="1.36" fill="#d2c4c4"/><rect x="211.92" y="88.12" width="1.55" height="1.36" fill="#d2c6c6"/><rect x="214.62" y="88.12" width="1.55" height="1.36" fill="#d1c8c8"/><rect x="217.32" y="88.12" width="1.55" height="1.36" fill="#d1c9c9"/><rect x="220.02" y="88.12" width="1.55" height="1.35" fill="#d1cbcb"/><rect x="222.72" y="88.12" width="1.55" height="1.35" fill="#d0cccc"/><rect x="225.42" y="88.12" width="1.55" height="1.35" fill="#d0cdcd"/><rect x="125.52" y="90.82" width="1.55" height="1.35" fill="#d1cbcb"/><rect x="128.22" y="90.82" width="1.55" height="1.36" fill="#d1caca"/><rect x="130.92" y="90.82" width="1.55" height="1.36" fill="#d1c8c8"/><rect x="133.62" y="90.82" width="1.55" height="1.36" fill="#d2c6c6"/><rect x="136.32" y="90.82" width="1.56" height="1.36" fill="#d2c4c4"/><rect x="139.02" y="90.82" width="1.56" height="1.36" fill="#d3c2c2"/><rect x="141.72" y="90.82" width="1.56" height="1.37" fill="#d3bfbf"/><rect x="144.42" y="90.81" width="1.56" height="1.37" fill="#d4baba"/><rect x="147.12" y="90.81" width="1.56" height="1.38" fill="#d6b3b3"/><rect x="149.82" y="90.81" width="1.57" height="1.39" fill="#d8a8a8"/><rect x="152.51" y="90.80" width="1.58" height="1.40" fill="#dc9898"/><rect x="155.21" y="90.79" width="1.59" height="1.43" fill="#e18181"/><rect x="157.90" y="90.77" width="1.60" height="1.45" fill="#e76666"/><rect x="160.59" y="90.76" width="1.62" height="1.48" fill="#ee4848"/><rect x="163.29" y="90.75" width="1.63" height="1.51" fill="#f42c2c"/><rect x="165.98" y="90.74" width="1.64" height="1.53" fill="#fa1515"/><rect x="168.68" y="90.73" width="1.65" height="1.54" fill="#fd0707"/><rect x="171.38" y="90.73" width="1.65" height="1.55" fill="#fe0101"/><rect x="174.08" y="90.73" width="1.65" height="1.55" fill="#fe0000"/><rect x="176.78" y="90.73" width="1.65" height="1.55" fill="#fd0404"/><rect x="179.48" y="90.73" width="1.64" height="1.53" fill="#fb1010"/><rect x="182.18" y="90.74" width="1.63" height="1.52" fill="#f62424"/><rect x="184.89" y="90.76" width="1.62" height="1.49" fill="#f03e3e"/><rect x="187.60" y="90.77" width="1.61" height="1.46" fill="#ea5c5c"/><rect x="190.30" y="90.78" width="1.59" height="1.43" fill="#e37979"/><rect x="193.01" y="90.79" width="1.58" height="1.41" fill="#de9191"/><rect x="195.71" y="90.80" width="1.57" height="1.39" fill="#daa3a3"/><rect x="198.42" y="90.81" width="1.57" height="1.38" fill="#d7b0b0"/><rect x="201.12" y="90.81" width="1.56" height="1.37" fill="#d5b8b8"/><rect x="203.82" y="90.82" width="1.56" height="1.37" fill="#d4bdbd"/><rect x="206.52" y="90.82" width="1.56" height="1.36" fill="#d3c1c1"/><rect x="209.22" y="90.82" width="1.56" height="1.36" fill="#d2c4c4"/><rect x="211.92" y="90.82" width="1.55" height="1.36" fill="#d2c6c6"/><rect x="214.62" y="90.82" width="1.55" height="1.36" fill="#d1c8c8"/><rect x="217.32" y="90.82" width="1.55" height="1.36" fill="#d1c9c9"/><rect x="220.02" y="90.82" width="1.55" height="1.35" fill="#d1cbcb"/><rect x="222.72" y="90.82" width="1.55" height="1.35" fill="#d0cccc"/><rect x="225.42" y="90.82" width="1.55" height="1.35" fill="#d0cdcd"/><rect x="125.52" y="93.52" width="1.55" height="1.35" fill="#d1cbcb"/><rect x="128.22" y="93.52" width="1.55" height="1.36" fill="#d1caca"/><rect x="130.92" y="93.52" width="1.55" height="1.36" fill="#d1c8c8"/><rect x="133.62" y="93.52" width="1.55" height="1.36" fill="#d2c6c6"/><rect x="136.32" y="93.52" width="1.56" height="1.36" fill="#d2c4c4"/><rect x="139.02" y="93.52" width="1.56" height="1.36" fill="#d3c2c2"/><rect x="141.72" y="93.52" width="1.56" height="1.37" fill="#d3bfbf"/><rect x="144.42" y="93.51" width="1.56" height="1.37" fill="#d4baba"/><rect x="147.12" y="93.51" width="1.56" height="1.38" fill="#d6b3b3"/><rect x="149.82" y="93.51" width="1.57" height="1.39" fill="#d8a8a8"/><rect x="152.51" y="93.50" width="1.58" height="1.40" fill="#dc9898"/><rect x="155.21" y="93.49" width="1.59" height="1.43" fill="#e18181"/><rect x="157.90" y="93.47" width="1.60" height="1.45" fill="#e76666"/><rect x="160.59" y="93.46" width="1.62" height="1.48" fill="#ee4848"/><rect x="163.29" y="93.45" width="1.63" height="1.51" fill="#f42c2c"/><rect x="165.98" y="93.44" width="1.64" height="1.53" fill="#fa1515"/><rect x="168.68" y="93.43" width="1.65" height="1.54" fill="#fd0707"/><rect x="171.38" y="93.43" width="1.65" height="1.55" fill="#fe0000"/><rect x="174.08" y="93.43" width="1.65" height="1.55" fill="#fe0000"/><rect x="176.78" y="93.43" width="1.65" height="1.55" fill="#fe0404"/><rect x="179.48" y="93.43" width="1.64" height="1.53" fill="#fb0f0f"/><rect x="182.18" y="93.44" width="1.63" height="1.52" fill="#f62424"/><rect x="184.89" y="93.46" width="1.62" height="1.49" fill="#f03e3e"/><rect x="187.60" y="93.47" width="1.61" height="1.46" fill="#ea5c5c"/><rect x="190.30" y="93.48" width="1.59" height="1.43" fill="#e37979"/><rect x="193.01" y="93.49" width="1.58" height="1.41" fill="#de9191"/><rect x="195.71" y="93.50" width="1.57" height="1.39" fill="#daa3a3"/><rect x="198.42" y="93.51" width="1.57" height="1.38" fill="#d7b0b0"/><rect x="201.12" y="93.51" width="1.56" height="1.37" fill="#d5b8b8"/><rect x="203.82" y="93.52" width="1.56" height="1.37" fill="#d4bdbd"/><rect x="206.52" y="93.52" width="1.56" height="1.36" fill="#d3c1c1"/><rect x="209.22" y="93.52" width="1.56" height="1.36" fill="#d2c4c4"/><rect x="211.92" y="93.52" width="1.55" height="1.36" fill="#d2c6c6"/><rect x="214.62" y="93.52" width="1.55" height="1.36" fill="#d1c8c8"/><rect x="217.32" y="93.52" width="1.55" height="1.36" fill="#d1c9c9"/><rect x="220.02" y="93.52" width="1.55" height="1.35" fill="#d1cbcb"/><rect x="222.72" y="93.52" width="1.55" height="1.35" fill="#d0cccc"/><rect x="225.42" y="93.52" width="1.55" height="1.35" fill="#d0cdcd"/><rect x="125.52" y="96.22" width="1.55" height="1.35" fill="#d1cbcb"/><rect x="128.22" y="96.22" width="1.55" height="1.36" fill="#d1caca"/><rect x="130.92" y="96.22" width="1.55" height="1.36" fill="#d1c8c8"/><rect x="133.62" y="96.22" width="1.55" height="1.36" fill="#d2c6c6"/><rect x="136.32" y="96.22" width="1.56" height="1.36" fill="#d2c4c4"/><rect x="139.02" y="96.22" width="1.56" height="1.36" fill="#d3c2c2"/><rect x="141.72" y="96.22" width="1.56" height="1.37" fill="#d3bfbf"/><rect x="144.42" y="96.21" width="1.56" height="1.37" fill="#d4baba"/><rect x="147.12" y="96.21" width="1.56" height="1.38" fill="#d6b3b3"/><rect x="149.82" y="96.21" width="1.57" height="1.39" fill="#d8a8a8"/><rect x="152.51" y="96.20" width="1.58" height="1.40" fill="#dc9898"/><rect x="155.21" y="96.19" width="1.59" height="1.43" fill="#e18181"/><rect x="157.90" y="96.17" width="1.60" height="1.45" fill="#e76666"/><rect x="160.59" y="96.16" width="1.62" height="1.48" fill="#ee4848"/><rect x="163.29" y="96.15" width="1.63" height="1.51" fill="#f42c2c"/><rect x="165.98" y="96.14" width="1.64" height="1.53" fill="#fa1515"/><rect x="168.68" y="96.13" width="1.65" height="1.54" fill="#fd0707"/><rect x="171.38" y="96.13" width="1.65" height="1.55" fill="#fe0000"/><rect x="174.08" y="96.13" width="1.65" height="1.55" fill="#fe0000"/><rect x="176.78" y="96.13" width="1.65" height="1.55" fill="#fe0404"/><rect x="179.48" y="96.13" width="1.64" height="1.53" fill="#fb0f0f"/><rect x="182.18" y="96.14" width="1.63" height="1.52" fill="#f62323"/><rect x="184.89" y="96.16" width="1.62" height="1.49" fill="#f03e3e"/><rect x="187.60" y="96.17" width="1.61" height="1.46" fill="#ea5c5c"/><rect x="190.30" y="96.18" width="1.59" height="1.43" fill="#e37878"/><rect x="193.01" y="96.19" width="1.58" height="1.41" fill="#de9191"/><rect x="195.71" y="96.20" width="1.57" height="1.39" fill="#daa3a3"/><rect x="198.42" y="96.21" width="1.57" height="1.38" fill="#d7b0b0"/><rect x="201.12" y="96.21" width="1.56" height="1.37" fill="#d5b8b8"/><rect x="203.82" y="96.22" width="1.56" height="1.37" fill="#d4bdbd"/><rect x="206.52" y="96.22" width="1.56" height="1.36" fill="#d3c1c1"/><rect x="209.22" y="96.22" width="1.56" height="1.36" fill="#d2c4c4"/><rect x="211.92" y="96.22" width="1.55" height="1.36" fill="#d2c6c6"/><rect x="214.62" y="96.22" width="1.55" height="1.36" fill="#d1c8c8"/><rect x="217.32" y="96.22" width="1.55" height="1.36" fill="#d1c9c9"/><rect x="220.02" y="96.22" width="1.55" height="1.35" fill="#d1cbcb"/><rect x="222.72" y="96.22" width="1.55" height="1.35" fill="#d0cccc"/><rect x="225.42" y="96.22" width="1.55" height="1.35" fill="#d0cdcd"/><rect x="125.52" y="98.92" width="1.55" height="1.35" fill="#d1cbcb"/><rect x="128.22" y="98.92" width="1.55" height="1.36" fill="#d1caca"/><rect x="130.92" y="98.92" width="1.55" height="1.36" fill="#d1c8c8"/><rect x="133.62" y="98.92" width="1.55" height="1.36" fill="#d2c6c6"/><rect x="136.32" y="98.92" width="1.56" height="1.36" fill="#d2c4c4"/><rect x="139.02" y="98.92" width="1.56" height="1.36" fill="#d3c2c2"/><rect x="141.72" y="98.92" width="1.56" height="1.37" fill="#d3bfbf"/><rect x="144.42" y="98.91" width="1.56" height="1.37" fill="#d4baba"/><rect x="147.12" y="98.91" width="1.56" height="1.38" fill="#d6b3b3"/><rect x="149.82" y="98.91" width="1.57" height="1.39" fill="#d8a8a8"/><rect x="152.51" y="98.90" width="1.58" height="1.40" fill="#dc9898"/><rect x="155.21" y="98.89" width="1.59" height="1.43" fill="#e18181"/><rect x="157.90" y="98.87" width="1.60" height="1.45" fill="#e76666"/><rect x="160.59" y="98.86" width="1.62" height="1.48" fill="#ee4848"/><rect x="163.29" y="98.85" width="1.63" height="1.51" fill="#f42c2c"/><rect x="165.98" y="98.84" width="1.64" height="1.53" fill="#fa1515"/><rect x="168.68" y="98.83" width="1.65" height="1.54" fill="#fd0707"/><rect x="171.38" y="98.83" width="1.65" height="1.55" fill="#fe0000"/><rect x="174.08" y="98.83" width="1.65" height="1.55" fill="#fe0000"/><rect x="176.78" y="98.83" width="1.65" height="1.55" fill="#fe0404"/><rect x="179.48" y="98.83" width="1.64" height="1.53" fill="#fb0f0f"/><rect x="182.18" y="98.84" width="1.63" height="1.52" fill="#f62323"/><rect x="184.89" y="98.86" width="1.62" height="1.49" fill="#f03e3e"/><rect x="187.60" y="98.87" width="1.61" height="1.46" fill="#ea5c5c"/><rect x="190.30" y="98.88" width="1.59" height="1.43" fill="#e37878"/><rect x="193.01" y="98.89" width="1.58" height="1.41" fill="#de9191"/><rect x="195.71" y="98.90" width="1.57" height="1.39" fill="#daa3a3"/><rect x="198.42" y="98.91" width="1.57" height="1.38" fill="#d7b0b0"/><rect x="201.12" y="98.91" width="1.56" height="1.37" fill="#d5b8b8"/><rect x="203.82" y="98.92" width="1.56" height="1.37" fill="#d4bdbd"/><rect x="206.52" y="98.92" width="1.56" height="1.36" fill="#d3c1c1"/><rect x="209.22" y="98.92" width="1.56" height="1.36" fill="#d2c4c4"/><rect x="211.92" y="98.92" width="1.55" height="1.36" fill="#d2c6c6"/><rect x="214.62" y="98.92" width="1.55" height="1.36" fill="#d1c8c8"/><rect x="217.32" y="98.92" width="1.55" height="1.36" fill="#d1c9c9"/><rect x="220.02" y="98.92" width="1.55" height="1.35" fill="#d1cbcb"/><rect x="222.72" y="98.92" width="1.55" height="1.35" fill="#d0cccc"/><rect x="225.42" y="98.92" width="1.55" height="1.35" fill="#d0cdcd"/><rect x="125.52" y="101.62" width="1.55" height="1.35" fill="#d1cbcb"/><rect x="128.22" y="101.62" width="1.55" height="1.36" fill="#d1caca"/><rect x="130.92" y="101.62" width="1.55" height="1.36" fill="#d1c8c8"/><rect x="133.62" y="101.62" width="1.55" height="1.36" fill="#d2c6c6"/><rect x="136.32" y="101.62" width="1.56" height="1.36" fill="#d2c4c4"/><rect x="139.02" y="101.62" width="1.56" height="1.36" fill="#d3c2c2"/><rect x="141.72" y="101.62" width="1.56" height="1.37" fill="#d3bfbf"/><rect x="144.42" y="101.61" width="1.56" height="1.37" fill="#d4baba"/><rect x="147.12" y="101.61" width="1.56" height="1.38" fill="#d6b3b3"/><rect x="149.82" y="101.61" width="1.57" height="1.39" fill="#d8a8a8"/><rect x="152.51" y="101.60" width="1.58" height="1.40" fill="#dc9898"/><rect x="155.21" y="101.59" width="1.59" height="1.43" fill="#e18181"/><rect x="157.90" y="101.57" width="1.60" height="1.45" fill="#e76666"/><rect x="160.59" y="101.56" width="1.62" height="1.48" fill="#ee4848"/><rect x="163.29" y="101.55" width="1.63" height="1.51" fill="#f42c2c"/><rect x="165.98" y="101.54" width="1.64" height="1.53" fill="#fa1515"/><rect x="168.68" y="101.53" width="1.65" height="1.54" fill="#fd0707"/><rect x="171.38" y="101.53" width="1.65" height="1.55" fill="#fe0000"/><rect x="174.08" y="101.53" width="1.65" height="1.55" fill="#fe0000"/><rect x="176.78" y="101.53" width="1.65" height="1.55" fill="#fe0404"/><rect x="179.48" y="101.53" width="1.64" height="1.53" fill="#fb0f0f"/><rect x="182.18" y="101.54" width="1.63" height="1.52" fill="#f62323"/><rect x="184.89" y="101.56" width="1.62" height="1.49" fill="#f03e3e"/><rect x="187.60" y="101.57" width="1.61" height="1.46" fill="#ea5c5c"/><rect x="190.30" y="101.58" width="1.59" height="1.43" fill="#e37878"/><rect x="193.01" y="101.59" width="1.58" height="1.41" fill="#de9191"/><rect x="195.71" y="101.60" width="1.57" height="1.39" fill="#daa3a3"/><rect x="198.42" y="101.61" width="1.57" height="1.38" fill="#d7b0b0"/><rect x="201.12" y="101.61" width="1.56" height="1.37" fill="#d5b8b8"/><rect x="203.82" y="101.62" width="1.56" height="1.37" fill="#d4bdbd"/><rect x="206.52" y="101.62" width="1.56" height="1.36" fill="#d3c1c1"/><rect x="209.22" y="101.62" width="1.56" height="1.36" fill="#d2c4c4"/><rect x="211.92" y="101.62" width="1.55" height="1.36" fill="#d2c6c6"/><rect x="214.62" y="101.62" width="1.55" height="1.36" fill="#d1c8c8"/><rect x="217.32" y="101.62" width="1.55" height="1.36" fill="#d1c9c9"/><rect x="220.02" y="101.62" width="1.55" height="1.35" fill="#d1cbcb"/><rect x="222.72" y="101.62" width="1.55" height="1.35" fill="#d0cccc"/><rect x="225.42" y="101.62" width="1.55" height="1.35" fill="#d0cdcd"/></g><text x="129.3" y="11.1" font-family="'Liberation Sans', Arial, sans-serif" font-weight="bold" font-size="8.3" fill="#333">(a)</text><text x="212.8" y="95.9" font-family="'Liberation Sans', Arial, sans-serif" font-style="italic" font-weight="bold" font-size="7.6" fill="#222">m<tspan font-size="5" dx="0.5" dy="1.6">z</tspan></text><g stroke="#111" stroke-width="0.9" fill="none"><line x1="121.5" y1="104" x2="121.5" y2="85"/><line x1="123.3" y1="105.8" x2="142" y2="105.8"/><circle cx="121.5" cy="105.8" r="1.8"/></g><circle cx="121.5" cy="105.8" r="0.6" fill="#111"/><path d="M121.5 82.6 L119.9 86.2 L123.1 86.2 Z" fill="#111"/><path d="M144.6 105.8 L141 104.2 L141 107.4 Z" fill="#111"/><g font-family="'Liberation Sans', Arial, sans-serif" font-size="7" fill="#111"><text x="121.5" y="80.2" text-anchor="middle">Y</text><text x="148.5" y="108.4" text-anchor="middle">X</text><text x="116" y="108.4" text-anchor="middle">Z</text></g><defs><linearGradient id="gb" x1="0" x2="1" y1="0" y2="0"><stop offset="0" stop-color="#ff0000"/><stop offset="0.45" stop-color="#ff0000"/><stop offset="0.505" stop-color="#ffffff"/><stop offset="0.515" stop-color="#f0f0ff"/><stop offset="0.537" stop-color="#0000ff"/><stop offset="1" stop-color="#0000ff"/></linearGradient><linearGradient id="cb1" x1="0" x2="0" y1="0" y2="1"><stop offset="0" stop-color="#ff0000"/><stop offset="0.5" stop-color="#ffffff"/><stop offset="1" stop-color="#0000ff"/></linearGradient><linearGradient id="cb2" x1="0" x2="0" y1="1" y2="0"><stop offset="0" stop-color="#0a0000"/><stop offset="0.37" stop-color="#ff0000"/><stop offset="0.72" stop-color="#ffff00"/><stop offset="0.88" stop-color="#ffffc0"/><stop offset="1" stop-color="#ffffff"/></linearGradient><filter id="bl1" x="-50%" y="-50%" width="200%" height="200%"><feGaussianBlur stdDeviation="1.0"/></filter><filter id="bl06" x="-50%" y="-50%" width="200%" height="200%"><feGaussianBlur stdDeviation="0.6"/></filter><filter id="bl08" x="-50%" y="-50%" width="200%" height="200%"><feGaussianBlur stdDeviation="0.8"/></filter><clipPath id="cpc"><rect x="288.2" y="1.5" width="46.8" height="46.5"/></clipPath><clipPath id="cpcr"><rect x="288.2" y="1.5" width="46.8" height="21.6"/></clipPath><clipPath id="cpcb"><rect x="288.2" y="23.4" width="46.8" height="24.6"/></clipPath><clipPath id="cpd"><rect x="234.6" y="54.6" width="46.6" height="46.3"/></clipPath><clipPath id="cpe"><rect x="287.6" y="54.4" width="47.9" height="47"/></clipPath><mask id="mgapd" maskUnits="userSpaceOnUse" x="234" y="50" width="48" height="56"><g fill="#fff" filter="url(#bl08)"><path d="M246 50 H271 V67.5 Q265 68.5 258.6 72.6 Q252 68.5 246 67.5 Z"/><path d="M246 106 H271 V85.5 Q265 84.5 258.6 80.8 Q252 84.5 246 85.5 Z"/></g></mask><mask id="mgapi" maskUnits="userSpaceOnUse" x="139" y="178" width="38" height="46"><g fill="#fff" filter="url(#bl08)"><path d="M145 178 H172 V194.6 Q166 195.4 158.3 198.6 Q151 195.4 145 194.6 Z"/><path d="M145 224 H172 V207.8 Q166 207 158.3 203.9 Q151 207 145 207.8 Z"/></g></mask><mask id="mcres" maskUnits="userSpaceOnUse" x="290" y="120" width="40" height="42"><rect x="300" y="125" width="16" height="32" fill="url(#crescm)"/></mask></defs><rect x="234" y="1" width="48" height="47.5" fill="url(#gb)"/><text x="236.5" y="10.7" font-family="'Liberation Sans', Arial, sans-serif" font-weight="bold" font-size="8.1" fill="#300">(b)</text><text x="271.4" y="44.6" font-family="'Liberation Sans', Arial, sans-serif" font-style="italic" font-weight="bold" font-size="7" fill="#fff">m<tspan font-size="4.5" dy="1.5">z</tspan></text><rect x="287.7" y="1" width="47.8" height="47.4" fill="#fff" stroke="#cfcfcf" stroke-width="0.9"/><g clip-path="url(#cpcr)"><ellipse cx="311.8" cy="18" rx="6.8" ry="8.5" fill="url(#rhalo)"/><ellipse cx="311.8" cy="20.4" rx="4.8" ry="4.8" fill="url(#rcore2)"/></g><g clip-path="url(#cpcb)"><ellipse cx="311.8" cy="28.5" rx="6.8" ry="8.5" fill="url(#bhalo)"/><ellipse cx="311.8" cy="26.1" rx="4.8" ry="4.8" fill="url(#bcore2)"/></g><text x="291.5" y="9.9" font-family="'Liberation Sans', Arial, sans-serif" font-weight="bold" font-size="8.2" fill="#444">(c)</text><text x="325.2" y="44.6" font-family="'Liberation Sans', Arial, sans-serif" font-style="italic" font-weight="bold" font-size="6.6" fill="#333">m<tspan font-size="4.3" dy="1.4">y</tspan></text><rect x="340" y="2.4" width="4" height="45" fill="url(#cb1)"/><g font-family="'Liberation Sans', Arial, sans-serif" font-size="6.5" fill="#222"><text x="346.2" y="4.5">1</text><text x="346.6" y="28">0</text><text x="345.2" y="49">-1</text></g><rect x="234.2" y="54.2" width="47.3" height="47.1" fill="#fff" stroke="#cfcfcf" stroke-width="0.9"/><g clip-path="url(#cpd)"><rect x="247.6" y="54" width="22" height="48" fill="url(#stripe)" mask="url(#mgapd)"/><ellipse cx="258.4" cy="76.8" rx="8.5" ry="1.7" fill="url(#bhalo4)"/><ellipse cx="258.4" cy="76.7" rx="3.2" ry="2" fill="url(#bcore)"/></g><text x="235.4" y="63.8" font-family="'Liberation Sans', Arial, sans-serif" font-weight="bold" font-size="8.2" fill="#444">(d)</text><text x="271.8" y="97.6" font-family="'Liberation Sans', Arial, sans-serif" font-style="italic" font-weight="bold" font-size="7" fill="#333">m<tspan font-size="4.5" dy="1.5">x</tspan></text><rect x="287.6" y="54.4" width="47.9" height="47" fill="#3a0000"/><g clip-path="url(#cpe)"><rect x="309.6" y="54" width="4" height="48" fill="url(#estripe)"/><ellipse cx="311.6" cy="77.9" rx="5.8" ry="9.6" fill="url(#espot)"/></g><text x="289.4" y="64" font-family="'Liberation Sans', Arial, sans-serif" font-weight="bold" font-size="8" fill="#fff">(e)</text><text x="327.8" y="96.5" font-family="'Liberation Sans', Arial, sans-serif" font-weight="bold" font-size="7" fill="#fff">q</text><rect x="340" y="55.5" width="4" height="42.3" fill="url(#cb2)"/><g font-family="'Liberation Sans', Arial, sans-serif" font-size="6.5" fill="#222"><text x="346.2" y="58.6">1</text><text x="346.8" y="100">0</text></g><rect x="248.2" y="123.3" width="36.3" height="36.4" fill="#fdfdfd" stroke="#dcdcdc" stroke-width="0.8"/><rect x="290.8" y="123.3" width="36.5" height="36.4" fill="#fdfdfd" stroke="#dcdcdc" stroke-width="0.8"/><rect x="139.4" y="183.3" width="37.3" height="36.4" fill="#fdfdfd" stroke="#dcdcdc" stroke-width="0.8"/><rect x="181.1" y="183.3" width="36.3" height="36.4" fill="#fdfdfd" stroke="#dcdcdc" stroke-width="0.8"/><defs><clipPath id="cpbms"><rect x="291.8" y="123.8" width="35" height="35.4"/></clipPath><clipPath id="cpdw1"><rect x="139.9" y="183.8" width="36.3" height="35.4"/></clipPath><clipPath id="cpdw2"><rect x="181.6" y="183.8" width="35.3" height="35.4"/></clipPath></defs><g clip-path="url(#cpbms)"><g mask="url(#mcres)"><ellipse cx="307" cy="141.3" rx="8" ry="9.5" fill="url(#rhalo3)"/></g><path d="M312 134.5 A6.6 6.6 0 0 0 312 147.7 A3.0 6.6 0 0 1 312 134.5 Z" fill="#ff0000" filter="url(#bl08)"/><ellipse cx="312.2" cy="141.1" rx="3.6" ry="4" fill="#fff" filter="url(#bl06)"/><ellipse cx="315.5" cy="141.1" rx="10" ry="4.4" fill="url(#tailr)"/><ellipse cx="312.1" cy="141.1" rx="3.9" ry="3.7" fill="url(#bcore3)"/></g><g clip-path="url(#cpdw1)"><rect x="147.3" y="183" width="22" height="37" fill="url(#stripe)" mask="url(#mgapi)"/><ellipse cx="158.3" cy="201.3" rx="11" ry="1.6" fill="url(#bhalo4)"/><ellipse cx="158.3" cy="201.3" rx="2.8" ry="1.6" fill="url(#bcore)"/></g><g clip-path="url(#cpdw2)"><rect x="188.8" y="183" width="22" height="37" fill="url(#stripe)"/></g><g stroke-width="1.3"><line x1="251.6" y1="128.3" x2="261" y2="128.3" stroke="#000"/><line x1="294" y1="128.4" x2="302.5" y2="128.4" stroke="#0000ff"/><line x1="143" y1="187.6" x2="152" y2="187.6" stroke="#ff0000"/><line x1="184.6" y1="187.8" x2="195" y2="187.8" stroke="#00cc00"/></g><g font-family="'Liberation Sans', Arial, sans-serif" font-size="7" fill="#111" stroke="#111" stroke-width="0.15"><text x="263.3" y="131.1">UM</text><text x="305.6" y="131.1">BMS</text><text x="153.5" y="190.3">DWBM</text><text x="198.6" y="190.3">DW</text></g><g fill="none" stroke-width="1.4" stroke-linecap="round"><path d="M126.20 170.70 C139.17 171.30 185.03 173.25 204.00 174.30 C222.97 175.35 229.33 176.05 240.00 177.00 C250.67 177.95 258.00 178.87 268.00 180.00 C278.00 181.13 292.00 182.75 300.00 183.80 C308.00 184.85 309.90 185.43 316.00 186.30 C322.10 187.17 333.17 188.55 336.60 189.00" stroke="#111" stroke-width="1.25"/><path d="M126.20 133.30 C131.83 134.87 147.70 139.30 160.00 142.70 C172.30 146.10 186.67 149.77 200.00 153.70 C213.33 157.63 228.67 162.63 240.00 166.30 C251.33 169.97 259.67 172.97 268.00 175.70 C276.33 178.43 284.67 181.00 290.00 182.70 C295.33 184.40 295.67 184.28 300.00 185.90 C304.33 187.52 309.90 190.13 316.00 192.40 C322.10 194.67 333.17 198.32 336.60 199.50" stroke="#14d214"/><path d="M126.20 132.10 C131.83 133.48 147.70 137.20 160.00 140.40 C172.30 143.60 186.67 147.47 200.00 151.30 C213.33 155.13 228.67 159.82 240.00 163.40 C251.33 166.98 259.67 170.05 268.00 172.80 C276.33 175.55 284.67 178.03 290.00 179.90 C295.33 181.77 295.67 182.40 300.00 184.00 C304.33 185.60 309.90 187.32 316.00 189.50 C322.10 191.68 333.17 195.83 336.60 197.10" stroke="#f01010"/><path d="M272.80 176.60 C279.17 177.48 304.63 181.02 311.00 181.90" stroke="#1010f0"/></g><rect x="126.1" y="117.6" width="210.80" height="110.80" fill="none" stroke="#222" stroke-width="1.1"/><g stroke="#222" stroke-width="0.9"><line x1="126.10" y1="228.4" x2="126.10" y2="225.0"/><line x1="147.18" y1="228.4" x2="147.18" y2="226.3"/><line x1="168.26" y1="228.4" x2="168.26" y2="225.0"/><line x1="189.34" y1="228.4" x2="189.34" y2="226.3"/><line x1="210.42" y1="228.4" x2="210.42" y2="225.0"/><line x1="231.50" y1="228.4" x2="231.50" y2="226.3"/><line x1="252.58" y1="228.4" x2="252.58" y2="225.0"/><line x1="273.66" y1="228.4" x2="273.66" y2="226.3"/><line x1="294.74" y1="228.4" x2="294.74" y2="225.0"/><line x1="315.82" y1="228.4" x2="315.82" y2="226.3"/><line x1="336.90" y1="228.4" x2="336.90" y2="225.0"/><line x1="126.1" y1="117.60" x2="129.79999999999998" y2="117.60"/><line x1="336.9" y1="117.60" x2="333.2" y2="117.60"/><line x1="126.1" y1="129.91" x2="128.29999999999998" y2="129.91"/><line x1="336.9" y1="129.91" x2="334.7" y2="129.91"/><line x1="126.1" y1="142.22" x2="129.79999999999998" y2="142.22"/><line x1="336.9" y1="142.22" x2="333.2" y2="142.22"/><line x1="126.1" y1="154.53" x2="128.29999999999998" y2="154.53"/><line x1="336.9" y1="154.53" x2="334.7" y2="154.53"/><line x1="126.1" y1="166.84" x2="129.79999999999998" y2="166.84"/><line x1="336.9" y1="166.84" x2="333.2" y2="166.84"/><line x1="126.1" y1="179.16" x2="128.29999999999998" y2="179.16"/><line x1="336.9" y1="179.16" x2="334.7" y2="179.16"/><line x1="126.1" y1="191.47" x2="129.79999999999998" y2="191.47"/><line x1="336.9" y1="191.47" x2="333.2" y2="191.47"/><line x1="126.1" y1="203.78" x2="128.29999999999998" y2="203.78"/><line x1="336.9" y1="203.78" x2="334.7" y2="203.78"/><line x1="126.1" y1="216.09" x2="129.79999999999998" y2="216.09"/><line x1="336.9" y1="216.09" x2="333.2" y2="216.09"/><line x1="126.1" y1="228.40" x2="128.29999999999998" y2="228.40"/><line x1="336.9" y1="228.40" x2="334.7" y2="228.40"/></g><g font-family="'Liberation Sans', Arial, sans-serif" font-size="7.1" fill="#111" stroke="#111" stroke-width="0.15"><text x="126.10" y="238.4" font-size="7.4" text-anchor="middle">1</text><text x="168.26" y="238.4" font-size="7.4" text-anchor="middle">2</text><text x="210.42" y="238.4" font-size="7.4" text-anchor="middle">3</text><text x="252.58" y="238.4" font-size="7.4" text-anchor="middle">4</text><text x="294.74" y="238.4" font-size="7.4" text-anchor="middle">5</text><text x="336.90" y="238.4" font-size="7.4" text-anchor="middle">6</text><text x="122.2" y="119.30" text-anchor="end">-4.8</text><text x="122.2" y="143.92" text-anchor="end">-5.0</text><text x="122.2" y="168.54" text-anchor="end">-5.2</text><text x="122.2" y="193.17" text-anchor="end">-5.4</text><text x="122.2" y="217.79" text-anchor="end">-5.6</text></g><text x="132" y="128.3" font-family="'Liberation Sans', Arial, sans-serif" font-size="8.5" fill="#222" stroke="#222" stroke-width="0.2">(f)</text><text x="210.6" y="247.8" font-family="'Liberation Sans', Arial, sans-serif" font-size="9.3" fill="#111" stroke="#111" stroke-width="0.15"><tspan font-style="italic">D</tspan><tspan font-style="italic" font-size="6" dy="2">i</tspan><tspan dy="-2"> (mJ/m</tspan><tspan font-size="6" dy="-3.4">2</tspan><tspan dy="3.4">)</tspan></text><text transform="translate(105.4 192) rotate(-90)" font-family="'Liberation Sans', Arial, sans-serif" font-size="8.8" fill="#111" stroke="#111" stroke-width="0.15"><tspan font-style="italic">E</tspan> (10<tspan font-size="5.6" dy="-3.3">-17</tspan><tspan dy="3.3"> J)</tspan></text>
</svg>
</body></html>
